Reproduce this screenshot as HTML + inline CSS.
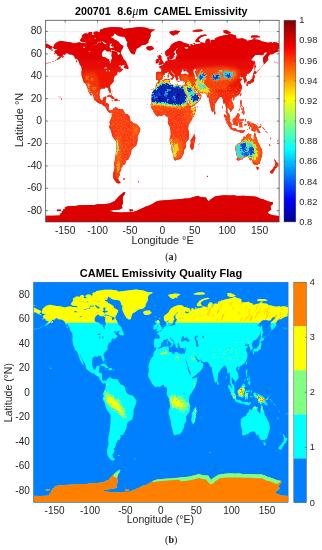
<!DOCTYPE html>
<html><head><meta charset="utf-8"><title>CAMEL Emissivity</title>
<style>
html,body{margin:0;padding:0;background:#fff;}
svg{display:block;}
text{font-family:"Liberation Sans", Arial, Helvetica, sans-serif;fill:#262626;}
.t{font-size:10.3px;}
.l{font-size:11px;}
.h{font-size:10.7px;font-weight:bold;fill:#000;}
.c{font-family:"Liberation Serif", "Times New Roman", serif;font-size:10px;fill:#111;}
.t2{font-size:10px;}
.l2{font-size:10.5px;}
.h2{font-size:11px;font-weight:bold;fill:#000;}
</style></head><body>
<svg width="322" height="550" viewBox="0 0 322 550">
<defs>
<path id="land1" fill-rule="evenodd" d="M92.3,33.4 92.3,32.7 91.6,32.1 90.5,31.9 89.4,32.1 88.6,32.6 88.5,33.2 88.0,33.7 85.0,33.3 81.8,35.5 81.8,36.3 82.3,36.8 85.6,36.9 85.7,37.0 82.6,36.9 82.1,37.1 80.2,40.0 80.3,40.9 82.5,42.2 85.4,41.9 85.9,43.2 87.3,44.2 84.6,42.9 81.4,42.9 79.3,42.3 74.2,43.4 71.0,42.6 60.8,40.9 57.3,42.0 54.5,44.3 53.2,47.6 53.2,47.9 54.4,49.1 57.7,49.2 57.7,49.5 55.5,50.3 54.5,51.4 54.5,51.8 55.3,53.3 57.0,54.1 57.1,55.2 59.2,55.9 59.9,55.7 59.7,56.5 56.5,59.4 56.4,59.7 56.5,60.0 58.8,59.2 60.8,57.5 62.5,55.8 63.7,53.8 63.8,54.7 64.2,55.0 66.0,53.6 67.1,53.1 69.0,54.2 71.5,54.4 74.5,56.0 74.2,56.1 74.8,57.8 75.8,59.5 76.8,58.5 78.8,61.8 79.4,64.1 79.3,64.2 81.0,66.5 81.4,66.6 81.2,66.9 81.7,69.6 81.5,72.9 81.7,76.1 83.9,82.5 85.3,83.3 86.2,84.8 87.5,88.1 88.2,91.0 90.8,95.6 91.0,95.7 91.5,95.6 91.7,95.2 89.8,90.1 88.4,87.4 88.3,86.1 88.5,86.2 89.2,88.2 90.4,90.4 91.4,92.6 93.0,94.9 93.7,97.1 94.1,99.5 98.0,102.7 100.0,103.8 101.3,103.6 102.4,105.1 105.4,106.8 107.0,110.1 108.4,112.1 110.3,113.2 111.0,111.8 111.4,112.3 111.8,113.3 111.9,116.5 109.6,122.1 110.2,124.7 109.3,126.1 109.3,127.8 110.9,130.2 112.0,134.6 112.8,136.9 116.5,141.7 116.3,149.1 115.4,158.0 114.4,162.5 114.3,164.8 114.7,168.1 113.1,173.8 113.4,178.2 114.8,180.6 116.8,182.9 118.9,183.6 119.2,183.5 120.6,182.4 120.5,182.1 118.4,180.3 118.5,179.6 118.0,178.3 120.0,174.8 120.0,174.5 119.1,172.7 120.4,171.6 121.4,169.0 120.8,167.4 122.2,167.3 122.5,165.0 124.9,164.3 125.1,164.1 125.8,162.1 125.2,159.9 126.2,160.4 127.8,160.1 128.0,159.9 131.1,153.2 131.3,150.3 132.2,148.7 134.1,147.1 136.2,145.8 137.5,140.8 137.5,136.3 138.7,134.1 140.2,130.2 140.1,128.3 136.7,124.0 133.7,123.5 131.5,121.6 130.3,120.9 130.3,119.9 129.2,115.8 127.6,114.3 125.6,114.0 122.9,109.8 123.1,109.4 122.9,109.0 122.7,108.9 122.4,109.1 118.4,109.0 117.0,107.8 116.3,108.4 116.4,107.2 116.1,106.8 113.3,108.8 112.2,111.0 111.2,110.1 110.4,110.4 109.1,110.6 108.5,108.7 108.7,104.3 108.6,104.0 106.8,103.1 105.4,102.9 106.0,100.4 106.3,97.0 106.2,96.7 105.9,96.6 103.6,97.2 103.4,97.5 102.8,100.0 101.2,100.3 100.5,99.6 99.4,95.8 99.5,92.5 99.8,89.9 101.6,88.4 103.0,88.4 104.3,88.7 104.7,88.5 105.0,87.6 106.6,87.5 107.7,87.8 109.2,92.1 110.1,93.0 110.6,93.0 110.9,90.9 110.0,87.4 110.2,85.4 112.1,83.2 113.7,81.8 113.8,81.5 113.5,79.6 114.7,76.0 117.2,74.7 117.4,74.4 117.1,73.9 117.3,72.5 119.1,71.2 119.3,71.2 119.4,72.6 119.8,72.6 123.2,69.6 123.0,69.2 120.9,68.2 120.5,65.9 120.1,65.9 118.5,67.0 119.8,65.2 124.2,64.9 124.7,64.5 123.6,67.8 126.0,68.8 127.3,69.1 128.4,68.7 128.6,68.4 128.4,66.6 126.5,63.1 126.6,62.8 126.4,61.6 123.8,59.2 120.7,53.2 120.3,53.3 119.7,54.2 118.3,55.3 117.7,54.8 117.4,52.7 117.2,52.4 114.5,50.9 111.6,50.8 111.8,53.8 111.5,55.6 112.1,58.3 110.9,60.4 110.8,63.1 110.4,63.2 109.8,62.0 110.1,62.0 110.3,61.7 110.1,61.4 109.5,61.4 109.2,59.2 107.4,58.8 105.4,57.4 102.7,56.9 101.5,54.9 102.4,51.8 103.9,50.2 105.1,49.6 106.7,51.2 107.2,51.4 108.2,51.2 108.9,51.5 109.5,51.3 109.8,50.9 110.6,50.8 110.9,50.5 111.1,49.8 110.6,48.3 108.7,46.7 109.9,46.2 109.6,43.6 111.6,43.6 112.6,44.1 111.6,44.5 111.2,45.2 111.3,45.7 111.7,46.3 112.6,46.6 113.9,46.3 113.6,47.8 111.6,47.9 111.1,48.3 110.9,48.9 111.3,49.5 114.7,50.2 116.0,51.3 120.0,52.7 120.6,52.7 121.0,52.3 121.1,51.7 120.8,51.0 121.7,50.3 123.4,46.7 123.3,45.9 119.7,43.7 119.1,42.3 118.8,41.9 116.2,40.2 113.7,39.2 113.6,38.7 113.0,38.1 111.3,37.9 111.4,36.3 112.6,36.3 113.1,36.0 114.4,33.3 114.7,33.2 116.9,35.1 119.5,36.3 124.3,36.8 125.8,38.9 126.4,41.1 128.5,42.5 127.7,42.4 127.2,42.5 126.9,42.9 127.4,46.2 129.0,49.5 131.0,52.9 133.3,54.3 134.6,54.2 134.9,53.9 135.5,51.2 136.7,48.5 138.6,47.7 141.8,45.2 145.8,44.6 148.4,42.4 148.5,40.5 149.7,38.3 150.7,36.1 150.4,33.8 151.6,31.7 155.0,29.8 154.9,29.6 154.6,29.4 150.8,29.4 146.2,27.7 139.7,27.1 123.0,29.0 123.0,28.2 122.3,27.8 117.0,27.2 110.5,27.2 103.8,28.3 102.2,29.6 100.4,29.5 99.9,30.2 99.9,32.3 98.9,32.5 98.0,31.7 96.3,31.5 94.5,31.8 93.6,32.5 93.4,33.0 93.6,33.7 94.6,34.5 94.1,35.0 91.6,34.7 92.1,34.2 92.1,33.5ZM88.4,34.7 88.4,34.6 88.5,34.7ZM98.5,34.1 98.9,34.5 99.5,34.6 98.1,34.5ZM104.0,34.2 101.0,34.2 104.1,34.1ZM99.7,37.6 99.6,37.6 99.6,37.5ZM100.5,42.9 99.2,42.5 98.1,42.8 97.4,43.7 97.8,44.5 96.2,44.6 92.5,45.6 91.8,45.0 93.2,44.9 96.7,44.0 97.1,43.5 97.6,41.6 99.6,41.9 100.1,41.7 100.4,41.3 101.0,41.2 100.6,43.1ZM82.3,66.6 81.9,65.7 82.6,66.3ZM104.9,38.3 104.9,37.8 106.6,38.0ZM94.7,38.5 94.1,38.4 94.5,37.8 96.1,38.0 95.8,39.1ZM92.5,38.4 88.0,38.1 87.8,37.9ZM103.2,41.0 103.5,41.7 106.7,43.4 105.9,44.5 104.2,44.0 103.0,43.0 101.9,41.1ZM108.9,71.6 108.6,70.4 108.3,69.9 109.7,69.9 110.1,71.0 109.4,72.1ZM107.0,68.6 105.7,68.6 103.8,68.4 104.9,67.6 106.5,67.2 107.1,68.4ZM106.1,72.3 105.8,73.4 106.0,71.3 105.8,70.1 106.9,69.9 106.9,70.6ZM99.5,63.6 99.2,62.7 98.7,61.2 98.9,61.2ZM90.6,51.5 89.0,52.2 87.3,52.6 88.6,51.4 90.3,51.1ZM85.1,46.4 85.4,47.1 84.5,47.9 83.3,47.9 83.1,46.8ZM45.7,41.1 45.7,41.7 47.4,41.3 47.3,41.2ZM45.7,48.6 46.8,47.5 48.1,48.0 50.0,49.3 50.4,49.4 51.2,49.0 52.6,47.2 52.7,46.9 47.8,44.3 45.8,43.5 45.5,43.5 45.4,43.8 45.4,48.3ZM52.9,50.1 52.6,49.7 52.0,49.6 51.4,49.7 51.1,50.0 51.4,50.4 52.0,50.5 52.6,50.4ZM111.0,51.2 110.7,51.0 110.3,51.2 110.2,51.6 110.3,52.0 110.7,52.2 111.0,52.0 111.1,51.6ZM55.2,53.7 55.0,53.4 54.6,53.3 54.2,53.4 54.0,53.7 54.2,54.1 54.6,54.2 55.0,54.1ZM63.7,56.0 63.2,55.9 62.7,56.2 62.2,56.9 62.1,57.5 62.5,57.7 63.1,57.3 63.6,56.7ZM56.1,60.2 55.9,60.0 55.4,59.9 55.0,60.0 54.8,60.2 55.0,60.5 55.4,60.6 55.9,60.5ZM54.4,61.1 54.2,60.9 53.8,60.8 53.4,60.9 53.2,61.1 53.4,61.4 53.8,61.5 54.2,61.4ZM77.0,60.6 76.6,60.3 76.2,60.6 76.1,61.4 76.2,62.1 76.6,62.4 77.0,62.1 77.2,61.4ZM53.1,61.8 52.9,61.6 52.5,61.5 52.1,61.6 51.9,61.8 52.1,62.1 52.5,62.1 52.9,62.1ZM51.2,62.5 51.0,62.2 50.6,62.2 50.1,62.2 49.9,62.5 50.1,62.7 50.6,62.8 51.0,62.7ZM49.6,62.8 49.4,62.6 48.9,62.5 48.5,62.6 48.3,62.8 48.5,63.1 48.9,63.2 49.4,63.1ZM48.3,63.0 48.1,62.8 47.6,62.7 47.2,62.8 47.0,63.0 47.2,63.3 47.6,63.4 48.1,63.3ZM47.0,63.3 46.8,63.0 46.3,62.9 45.9,63.0 45.7,63.3 45.9,63.5 46.3,63.6 46.8,63.5ZM112.8,91.3 112.2,91.0 111.6,91.3 112.2,91.6ZM112.1,93.2 111.8,92.9 111.6,93.2 111.6,94.5 111.8,94.8 112.1,94.5ZM59.3,96.4 59.0,96.1 58.7,96.4 59.0,96.7ZM107.0,96.7 108.6,96.8 110.4,97.1 111.5,98.1 112.0,99.1 114.3,98.8 114.6,98.4 114.0,97.6 111.4,95.3 109.3,94.7 107.1,96.1ZM60.3,97.0 60.0,96.7 59.7,97.0 60.0,97.3ZM61.3,97.8 60.9,97.5 60.5,97.8 60.9,98.1ZM62.0,98.7 61.6,98.4 61.2,98.7 61.1,99.1 61.2,99.6 61.6,99.8 62.0,99.6 62.1,99.1ZM114.0,100.4 116.0,101.2 118.1,100.2 117.1,98.8 115.1,98.7ZM119.9,100.7 119.7,100.4 119.3,100.3 118.8,100.4 118.6,100.7 118.8,101.0 119.3,101.1 119.7,101.0ZM113.0,100.8 112.8,100.5 112.3,100.4 111.8,100.5 111.6,100.8 111.8,101.1 112.3,101.2 112.8,101.1ZM56.7,209.7 57.3,211.2 61.0,210.7 60.6,209.5ZM201.3,29.4 196.0,29.8 192.8,30.8 192.5,31.2 192.8,31.5 198.0,31.8 202.9,31.1 202.8,30.6ZM179.9,31.1 175.3,30.5 169.5,31.7 169.2,32.0 171.2,34.5 173.3,35.6 173.6,35.6 176.2,34.0 176.4,34.3 177.0,34.4 177.6,34.3 177.9,33.9 177.6,33.5 177.2,33.4 180.2,31.5ZM157.5,41.5 157.0,41.3 156.5,41.5 157.0,41.8ZM195.0,43.6 194.8,43.3 194.3,43.1 193.8,43.3 193.6,43.7 193.8,44.0 194.3,44.2 194.8,44.0ZM146.6,48.7 147.8,49.9 150.3,50.4 152.8,49.4 154.0,48.3 152.0,46.2 148.1,46.3 146.2,47.6ZM158.2,51.6 157.9,51.3 157.5,51.6 157.9,52.0ZM161.7,53.1 161.6,52.9 161.4,53.1 161.4,53.9 161.5,54.1 161.7,53.9ZM177.6,55.6 177.4,55.4 177.0,55.3 176.6,55.4 176.4,55.7 176.6,55.9 177.0,56.0 177.4,55.9ZM157.9,55.5 157.7,55.7 157.6,56.3 157.9,57.2 158.1,56.3ZM174.6,56.2 174.4,56.0 174.2,56.2 174.2,57.1 174.4,57.3 174.6,57.1ZM172.9,58.5 173.4,57.9 173.6,55.7 174.4,54.9 174.8,54.0 174.8,53.6 174.0,52.6 174.1,51.4 176.5,49.1 176.9,48.0 177.9,47.7 178.3,47.9 176.0,50.2 175.9,51.6 176.0,53.1 177.1,54.2 177.4,54.3 179.3,53.8 180.8,53.6 181.1,53.8 180.5,54.1 178.6,54.1 177.5,54.4 177.3,54.6 177.3,54.9 177.9,55.8 177.8,56.5 177.1,56.1 176.8,56.2 175.8,56.9 175.7,58.8 174.9,59.6 174.3,59.3 171.6,60.3 170.7,59.8 169.6,59.8 169.2,59.5 169.5,59.1 169.3,58.8 169.6,57.8 169.6,56.5 169.3,56.1 169.1,56.2 168.4,56.7 167.6,56.9 167.4,57.2 167.4,58.9 167.7,59.7 167.6,60.5 165.4,61.4 164.4,63.2 163.6,63.6 163.8,61.9 162.9,61.4 162.7,60.7 161.7,59.3 161.3,58.3 161.4,56.2 160.6,56.1 160.7,55.2 159.2,55.1 158.8,55.3 158.2,57.7 158.6,59.1 158.2,58.9 157.2,58.9 155.7,60.1 155.6,60.5 155.9,61.4 155.6,62.5 155.7,63.4 157.2,63.5 158.6,62.8 158.7,62.5 159.2,60.0 160.0,60.0 160.1,60.9 159.4,61.0 159.1,61.4 159.3,62.5 158.8,62.8 158.7,63.2 159.4,63.6 158.4,64.7 158.5,65.2 160.2,65.1 163.2,64.1 163.1,64.7 162.4,65.3 161.7,65.4 161.2,65.0 160.9,65.4 161.0,66.1 160.4,66.1 159.1,66.6 159.1,67.5 159.3,67.7 160.7,68.5 161.3,69.6 161.3,70.9 161.0,72.1 157.2,71.8 156.2,72.7 156.1,72.9 156.3,74.9 155.9,77.5 156.3,78.1 156.3,79.6 156.4,79.9 156.7,80.0 157.7,79.8 158.4,80.7 157.9,82.2 156.6,83.4 155.8,85.7 155.6,87.9 153.7,89.8 152.7,91.8 151.7,94.6 151.0,97.5 151.5,99.8 151.4,103.1 150.7,104.7 151.2,107.4 153.2,110.6 153.5,111.7 154.7,113.7 157.3,116.4 157.7,116.5 159.5,115.6 161.3,116.0 164.1,114.4 165.1,114.5 166.0,116.4 166.3,116.6 167.9,116.4 168.0,116.7 167.8,117.2 168.0,117.6 168.3,117.4 168.2,119.9 167.8,122.1 168.3,124.1 169.7,126.3 170.7,131.2 170.8,135.0 169.8,138.3 169.7,140.8 171.5,146.9 171.8,150.8 173.1,154.8 174.0,159.4 175.2,160.4 175.5,160.4 177.4,159.5 179.5,159.3 181.2,158.0 183.8,153.2 184.1,149.8 185.6,148.0 185.8,146.8 185.5,143.3 186.7,141.2 188.3,139.7 189.1,137.4 189.0,132.8 188.0,128.5 188.7,124.6 190.9,121.3 193.8,116.2 195.7,110.4 195.8,107.6 195.7,107.4 195.4,107.3 192.8,108.2 191.4,108.9 190.8,108.1 190.8,107.2 191.8,107.0 194.0,105.7 196.3,103.4 198.5,101.7 199.6,100.3 200.1,99.9 201.5,96.1 200.7,94.5 199.5,93.6 198.9,91.6 198.4,91.8 197.2,93.6 196.4,93.6 195.8,91.8 195.6,91.6 195.2,91.7 194.2,89.0 193.9,87.7 194.1,87.6 194.8,88.2 195.5,90.0 196.6,91.1 197.9,91.6 198.9,91.1 200.6,93.0 202.3,93.3 205.4,93.1 206.5,95.1 207.3,95.5 206.9,95.8 206.9,96.3 208.2,98.0 208.6,98.1 209.2,97.7 209.4,101.5 211.5,110.5 212.3,112.2 212.8,112.3 214.0,110.6 214.0,112.1 214.2,114.4 215.0,114.3 215.5,113.2 215.1,111.5 214.2,110.2 214.5,109.6 214.8,103.9 216.1,102.5 217.8,99.5 218.8,98.7 219.1,97.5 221.5,96.4 221.7,97.2 222.7,98.8 223.3,100.9 223.2,103.3 224.3,103.7 224.9,102.8 225.2,102.5 225.3,102.7 225.6,105.4 226.0,107.7 225.8,111.9 226.6,113.4 227.7,118.0 229.1,119.6 230.1,119.9 230.3,119.5 229.9,118.2 229.8,116.5 229.5,114.8 228.7,113.6 227.9,113.0 227.1,109.3 227.6,107.2 228.4,107.8 229.2,109.5 230.1,110.1 230.1,111.4 230.2,111.7 230.7,111.7 231.7,110.7 232.1,109.7 233.5,108.2 233.6,106.4 233.0,103.1 231.8,101.3 231.4,99.8 231.9,98.3 232.6,97.3 233.2,97.3 233.7,98.6 232.8,99.4 232.8,100.1 233.8,100.6 234.4,99.0 233.9,98.7 234.2,98.5 234.6,97.5 238.5,95.0 239.9,93.2 241.5,89.5 241.8,87.8 241.7,85.8 240.1,81.9 241.1,80.4 242.1,79.5 242.2,79.2 242.0,79.0 240.9,78.4 239.7,78.8 239.2,77.6 239.8,77.4 240.9,75.7 241.1,75.9 240.8,77.3 241.1,77.7 242.8,76.9 243.3,77.0 243.1,78.5 243.9,79.7 244.2,82.7 244.6,82.7 246.5,81.6 246.6,81.3 246.6,79.6 245.5,76.6 246.6,75.4 247.0,73.8 248.9,73.4 250.5,72.0 252.2,69.7 253.5,67.4 254.2,63.1 254.4,69.6 255.5,69.2 255.1,68.4 256.2,66.2 255.4,65.0 255.2,61.7 254.5,60.2 254.4,60.2 254.3,62.0 253.3,60.8 251.4,60.3 250.8,59.8 251.4,59.3 251.4,59.7 252.0,59.7 252.0,59.2 251.5,59.2 255.3,55.0 259.0,54.8 261.0,55.3 263.0,55.0 263.2,54.8 264.4,52.5 266.1,52.2 267.5,52.4 265.2,55.3 263.2,57.2 262.9,60.7 263.8,64.0 263.4,64.2 263.2,64.9 262.7,65.1 262.5,65.8 262.8,65.9 263.3,65.0 263.7,64.8 263.9,64.1 264.2,64.3 264.5,64.2 268.3,59.7 268.4,59.3 267.8,58.3 268.4,56.3 270.2,54.2 272.6,54.2 274.1,53.0 276.0,52.2 278.8,51.2 278.0,49.1 278.7,49.1 279.5,48.3 279.5,43.8 279.2,43.4 276.5,42.5 273.3,42.3 272.9,42.6 272.7,43.2 271.3,42.3 267.5,42.7 266.2,42.3 261.1,41.2 259.7,40.1 253.9,39.2 246.9,41.1 246.2,39.6 244.8,39.5 243.0,38.2 238.9,38.7 236.2,38.4 236.3,38.1 236.0,35.9 235.8,35.6 229.9,33.7 227.1,35.0 223.3,35.6 218.7,36.7 214.8,38.4 214.6,38.8 215.0,40.2 212.9,39.7 210.8,40.2 210.0,44.8 209.9,44.9 210.1,44.3 209.8,41.5 210.0,39.7 208.6,39.3 209.0,38.9 208.3,38.6 207.8,38.7 207.6,39.0 207.2,39.0 206.8,39.1 205.4,41.3 205.5,43.5 204.6,43.1 201.5,42.6 201.4,42.3 201.0,42.1 200.6,42.3 200.4,42.6 200.6,43.0 200.8,43.1 200.5,43.4 194.7,44.6 192.6,45.5 192.6,44.9 192.4,44.6 190.8,44.0 190.6,44.3 190.6,46.3 189.3,46.6 189.5,46.2 189.3,44.8 189.1,44.6 185.9,43.2 183.9,43.0 182.6,42.0 180.7,41.2 179.0,41.1 175.2,42.3 173.5,43.2 171.9,44.3 170.6,45.8 169.9,47.5 169.0,48.6 165.4,51.3 165.3,51.6 165.3,53.4 165.7,55.3 166.7,56.3 167.0,56.4 167.8,56.2 169.2,55.0 170.2,58.3 169.5,58.4 169.6,59.3 171.6,59.4 171.9,59.1 172.1,58.6ZM170.4,78.4 170.5,79.0 172.3,80.0 172.5,78.9 172.8,78.9 173.3,78.4 173.8,77.5 173.5,76.8 173.6,76.2 174.5,76.5 174.7,76.1 175.9,78.2 175.8,78.8 176.1,79.9 176.7,80.5 177.3,80.5 177.7,80.2 177.8,79.1 178.2,79.1 178.3,78.8 178.3,78.3 177.5,77.0 177.5,76.4 177.8,76.6 178.1,76.5 178.3,75.7 179.0,75.8 179.1,77.0 179.6,78.0 179.8,80.0 180.0,80.3 181.1,80.7 182.2,80.2 183.6,80.9 184.0,80.9 184.9,80.3 185.5,80.3 185.3,82.4 184.4,85.7 183.6,85.8 182.4,85.5 181.2,86.0 178.7,85.2 176.9,83.9 176.5,83.9 175.4,84.3 175.1,84.6 174.8,86.4 173.9,86.1 172.5,84.6 169.9,83.6 169.4,82.8 169.8,82.0 169.6,80.7 169.9,79.5 169.0,79.0 164.3,79.5 161.1,81.3 159.4,80.6 159.7,80.3 161.2,80.1 162.3,79.1 162.8,77.9 162.6,76.9 163.2,75.6 164.7,74.4 164.8,74.1 164.7,73.5 164.9,72.9 165.5,72.8 166.3,73.1 166.7,73.0 168.1,71.7 168.3,71.8 168.8,72.5 169.3,73.8 172.2,76.4 172.3,78.2ZM186.7,96.3 185.7,94.1 184.7,90.4 184.9,90.2 186.4,94.0 188.3,99.9 189.6,102.7 190.1,105.9 188.0,103.0 187.1,100.3ZM170.8,71.4 170.7,70.6 171.2,70.4 172.5,72.5 174.1,73.7 174.7,74.5 174.6,75.9 173.0,73.9 171.9,73.3 171.6,72.2ZM188.0,47.0 188.0,48.4 186.4,49.0 185.0,48.5 184.4,46.9 187.0,47.3ZM200.7,69.3 201.7,69.3 201.9,70.6 201.2,71.6 200.7,71.1ZM196.4,70.4 195.4,70.7 195.1,70.9 194.8,72.3 196.4,74.7 196.4,76.3 197.1,77.5 196.9,79.1 196.1,79.6 195.1,79.0 194.5,77.9 194.8,75.8 193.5,72.8 193.2,70.3 194.3,69.3 195.7,69.0 196.4,69.4ZM183.3,70.0 183.2,70.4 184.0,71.6 186.1,70.8 186.5,71.3 188.7,73.1 188.9,74.4 188.0,74.8 186.5,74.6 185.3,73.7 184.1,73.7 182.7,74.5 181.4,74.6 180.9,74.1 180.8,73.3 182.5,69.3 182.8,69.2 183.6,69.6ZM186.0,70.1 185.7,70.0 185.5,69.4 186.6,69.0ZM183.5,123.5 183.4,121.1 184.1,121.2 183.8,123.5ZM182.2,52.8 182.6,52.4 183.4,52.9 183.2,53.3 182.4,53.5ZM122.6,65.6 122.3,65.3 121.6,65.2 120.8,65.3 120.5,65.6 120.8,65.9 121.6,66.0 122.3,65.9ZM167.9,73.0 168.0,74.5 168.6,74.8 168.6,72.9ZM167.7,74.9 167.8,77.4 168.7,77.3 168.8,75.0ZM164.8,76.7 164.7,76.4 164.3,76.2 164.0,76.4 163.9,76.7 164.0,77.0 164.3,77.2 164.7,77.0ZM177.6,81.1 177.7,81.7 179.5,81.9 179.5,81.5ZM183.3,81.7 183.6,82.4 184.5,82.1 184.9,81.1ZM153.5,88.8 153.3,88.6 153.1,88.8 153.1,89.5 153.3,89.7 153.5,89.5ZM152.1,89.4 151.7,89.1 151.3,89.4 151.7,89.7ZM152.5,89.5 152.1,89.5 152.1,89.9 152.5,89.9ZM147.3,103.9 147.1,103.8 146.9,103.9 146.9,104.4 147.1,104.5 147.3,104.4ZM197.9,107.1 197.7,106.8 197.3,106.8 196.7,107.1 197.3,107.4ZM190.8,134.0 190.4,134.0 190.4,134.4 190.8,134.4ZM193.3,148.9 194.8,140.2 195.4,138.4 194.7,134.5 194.3,134.2 191.9,138.5 190.6,140.1 190.8,143.4 190.1,145.8 190.4,147.6 191.8,150.0ZM198.6,144.5 198.4,144.4 198.2,144.5 198.2,145.0 198.6,145.0ZM125.0,179.0 124.7,178.6 124.0,178.4 123.2,178.6 122.9,179.0 123.2,179.4 124.0,179.6 124.7,179.4ZM139.3,182.4 139.1,182.0 138.6,181.6 138.1,181.3 137.8,181.4 138.0,181.8 138.4,182.2 139.0,182.5ZM272.9,202.1 270.7,201.9 268.5,201.4 263.7,199.4 259.8,198.4 257.1,196.9 254.5,196.4 249.8,196.3 243.4,195.8 237.4,195.9 233.7,195.3 230.5,195.6 224.9,195.3 219.4,195.8 214.9,196.6 212.1,198.6 210.2,199.8 208.7,201.4 206.8,199.3 206.2,197.7 205.9,197.5 200.1,196.9 198.0,195.8 188.3,198.4 185.0,198.6 181.8,199.1 168.9,199.9 159.1,200.8 155.9,201.7 152.2,204.1 149.9,205.3 146.0,206.5 142.8,208.1 136.3,210.9 133.2,212.0 120.3,212.6 113.8,212.0 110.0,211.1 110.7,210.5 113.8,209.9 119.6,209.4 122.5,208.0 121.6,205.7 122.5,204.6 123.2,202.4 122.6,199.5 122.9,196.8 124.5,194.6 125.3,192.5 125.1,192.0 124.9,192.0 123.3,192.5 118.7,196.4 116.8,198.7 115.4,199.9 115.3,200.3 115.6,201.0 113.9,201.5 113.4,201.4 111.7,202.5 109.2,203.4 104.0,204.2 97.6,204.3 94.3,205.1 87.8,205.0 80.0,205.3 74.8,205.9 69.0,206.1 65.0,207.3 64.8,207.7 65.5,208.5 62.9,209.4 63.0,209.8 63.8,210.5 61.6,211.2 61.7,211.7 62.5,212.2 60.6,213.4 59.7,215.5 52.2,215.8 45.5,215.7 45.4,221.9 45.7,222.2 279.1,222.2 279.5,221.9 279.4,216.1 274.0,215.4 269.5,214.3 267.7,213.0 268.4,211.5 271.3,209.6 270.4,206.3 272.5,204.5 273.0,202.4ZM129.3,209.5 130.0,211.4 133.3,211.1 132.6,209.5ZM223.4,30.4 222.9,30.8 223.4,31.1 223.8,31.2 223.6,31.5 223.7,32.8 227.1,34.0 228.7,33.6 229.8,33.5 230.8,32.7 230.6,32.3 226.1,30.0 225.1,30.4ZM200.5,35.6 197.8,37.4 195.5,40.4 195.5,41.7 196.8,42.2 199.9,42.1 200.0,41.7 198.8,39.8 199.0,38.9 201.5,36.8 206.6,35.4 206.8,35.2 206.8,34.9 205.1,34.5ZM246.3,82.1 246.1,82.2 246.1,82.5 246.2,83.0 246.4,82.5ZM248.1,83.2 248.6,84.4 249.7,83.4 249.6,82.8 249.7,82.8 250.3,83.7 250.7,83.9 251.4,82.6 252.3,82.5 253.5,82.0 254.0,80.9 254.2,78.6 254.8,77.0 254.4,74.7 253.9,74.5 254.2,73.5 255.3,74.1 256.8,72.6 256.5,71.7 255.2,71.2 254.3,70.1 254.1,72.3 253.3,72.9 253.1,74.6 253.7,74.7 252.8,75.7 252.6,77.3 252.3,78.2 252.1,78.1 252.0,78.2 251.9,79.0 250.8,79.5 250.0,80.9 248.3,81.1 247.1,82.2 247.0,83.0 247.1,83.3ZM244.8,83.6 244.4,83.4 244.1,83.7 244.4,83.9ZM246.6,83.5 246.5,84.5 247.0,86.4 247.7,85.8 247.9,83.5ZM245.4,91.8 245.6,90.9 245.4,90.9 245.1,91.9ZM241.2,92.8 240.6,93.5 240.1,95.3 240.7,96.5 241.4,93.6ZM240.5,100.3 240.1,103.1 240.8,105.8 240.5,106.5 240.6,107.1 240.9,107.4 241.2,107.1 241.3,106.5 241.1,105.8 241.8,105.8 242.8,107.0 242.9,106.5 241.6,105.3 241.3,104.3 241.6,102.6 241.7,100.4ZM222.6,105.8 222.3,106.2 222.3,107.3 222.3,108.3 222.6,108.8 222.8,108.3 222.8,107.3ZM243.0,107.0 243.1,109.6 243.5,110.0 244.0,108.8 243.8,107.3ZM241.5,107.8 241.4,109.3 242.2,110.8 242.5,109.3 242.2,108.1ZM238.3,111.7 240.0,109.3 239.8,108.3 238.5,110.7ZM243.3,110.1 242.9,109.7 242.6,110.1 242.9,110.5ZM241.4,113.2 242.3,112.8 243.7,114.7 244.2,114.0 244.5,112.1 243.8,110.1 242.4,111.5ZM238.3,122.8 239.1,120.5 239.9,120.1 239.2,118.7 239.1,117.7 239.2,116.4 240.0,115.2 238.1,112.9 237.7,113.1 237.0,114.7 236.0,115.9 235.4,117.2 234.4,117.7 234.1,118.7 233.5,118.5 233.1,118.7 232.7,119.4 232.7,121.6 233.4,122.9 233.5,124.5 233.7,124.8 234.9,125.2 236.1,125.2 236.5,126.0 237.9,125.8ZM225.7,119.2 225.4,119.3 225.3,119.7 225.7,120.4 225.9,120.4 226.1,120.0ZM245.1,118.8 244.9,120.0 245.4,122.1 245.9,120.8 245.8,119.4ZM226.6,122.2 226.3,122.1 226.2,122.5 226.5,123.3 226.8,123.4 226.9,123.0ZM242.5,127.4 242.2,126.4 242.3,124.9 241.7,123.3 242.5,122.7 242.7,122.0 242.3,121.7 240.8,121.8 240.6,121.2 241.0,120.9 243.3,120.8 243.8,119.4 243.5,118.9 242.1,119.6 240.8,119.3 240.4,119.4 239.7,120.4 239.1,124.0 239.5,125.1 239.6,127.5 240.1,127.5 240.7,126.9 240.8,125.4 241.3,126.9 241.9,127.5 242.2,127.6ZM231.5,123.1 231.1,122.9 230.8,123.1 229.5,120.2 227.5,117.8 225.9,115.1 224.0,114.5 223.8,114.9 224.3,116.7 226.1,119.3 226.3,120.7 227.1,122.3 227.6,124.0 228.4,125.8 229.9,127.7 230.6,127.9 230.3,128.8 231.2,129.6 234.3,130.7 238.2,131.5 240.1,132.4 242.4,133.0 243.4,132.7 245.0,130.7 245.0,130.2 244.7,130.1 243.4,130.2 242.8,130.9 242.4,130.2 242.1,130.0 237.0,129.9 236.9,129.5 235.7,128.5 234.5,127.9 234.3,127.9 233.9,128.4 231.4,127.4 231.5,124.5 231.3,124.1 231.6,123.6ZM232.7,124.1 232.4,123.9 232.2,124.0 232.2,124.6 232.4,124.7 232.7,124.6ZM244.0,124.6 244.1,125.2 244.5,125.4 246.0,125.2 247.3,124.8 245.4,124.2 244.5,124.4ZM247.9,129.4 247.7,129.2 247.4,129.4 247.4,130.0 247.7,130.2 247.9,130.0ZM199.9,143.6 199.7,143.5 199.6,143.6 199.6,144.0 199.7,144.2 199.9,144.0ZM240.3,159.4 242.7,159.3 243.1,158.3 244.2,157.6 246.1,156.8 247.4,156.7 248.7,157.4 249.8,159.9 250.4,160.3 250.7,160.4 250.9,160.2 251.6,158.8 251.8,160.3 252.5,161.3 252.7,162.7 253.7,164.2 255.3,164.9 256.4,164.4 257.3,165.1 258.3,163.9 259.7,163.4 259.9,163.1 260.0,162.0 261.9,155.9 262.3,153.2 262.1,151.3 261.6,148.9 259.6,145.6 259.0,143.6 257.6,142.1 256.9,137.8 255.9,136.9 255.8,135.0 254.9,132.7 254.6,132.7 254.4,133.0 253.8,135.6 253.9,137.9 253.4,140.3 252.7,140.1 251.8,138.8 250.6,137.7 251.4,134.5 250.0,134.4 248.3,133.3 248.0,133.6 248.0,134.3 247.1,134.6 246.4,135.4 246.1,137.4 245.5,137.3 244.3,136.5 244.0,136.4 243.8,136.6 242.3,140.0 241.5,139.8 241.3,140.1 240.9,142.5 237.5,144.1 235.8,145.4 235.6,145.7 235.6,150.2 237.1,156.9 236.6,159.5 237.4,160.3 238.8,160.6 239.1,160.5ZM208.1,176.3 207.9,175.9 207.5,175.7 207.0,175.9 206.8,176.3 207.0,176.7 207.5,176.9 207.9,176.7ZM251.9,35.6 250.8,36.6 251.0,36.8 250.9,37.1 251.2,37.4 255.1,37.6 259.7,37.2 259.9,37.0 260.0,36.7 259.8,36.5 257.1,35.6ZM255.7,38.6 255.3,38.3 254.5,38.2 253.6,38.3 253.2,38.6 253.6,38.9 254.5,39.0 255.3,38.9ZM278.1,41.5 279.1,41.7 279.2,41.2 279.1,41.1ZM275.2,61.9 275.0,61.7 274.6,61.6 274.1,61.7 273.9,61.9 274.1,62.2 274.6,62.3 275.0,62.2ZM276.5,62.5 276.3,62.2 275.9,62.2 275.4,62.2 275.2,62.5 275.4,62.7 275.9,62.8 276.3,62.7ZM278.4,63.0 278.2,62.8 277.8,62.7 277.4,62.8 277.2,63.0 277.4,63.3 277.8,63.4 278.2,63.3ZM262.3,66.3 262.0,66.2 261.8,66.5 261.6,67.2 261.8,67.3 262.1,67.0ZM261.3,67.7 261.1,67.7 260.8,67.9 260.6,68.7 260.8,68.7 261.1,68.5ZM260.0,68.8 259.8,68.8 259.5,69.1 259.3,69.8 259.5,69.8 259.8,69.6ZM258.7,69.8 258.5,69.8 258.2,70.1 257.8,71.3 258.4,70.9ZM257.7,70.6 257.5,70.6 257.2,70.8 257.0,71.6 257.3,71.6 257.5,71.4ZM251.0,122.2 250.6,121.8 250.1,122.2 250.6,122.6 250.9,122.5ZM258.1,123.4 257.7,123.2 257.3,123.4 257.7,123.7ZM261.7,126.0 261.6,125.5 261.1,124.6 260.5,123.9 260.2,123.7 260.3,124.3 260.8,125.1ZM258.5,127.2 258.6,127.9 260.0,128.1 261.2,126.7 261.0,125.7ZM251.4,128.7 251.5,130.4 251.7,130.7 252.5,130.5 253.8,131.6 255.1,131.5 255.4,131.3 256.0,130.1 256.8,130.3 257.5,132.0 259.1,133.0 260.0,133.0 260.3,132.8 260.3,132.4 258.1,128.7 258.4,127.9 258.3,127.6 256.3,125.0 254.0,123.7 251.7,122.7 251.3,122.8 250.2,124.2 249.7,123.7 249.6,121.9 249.4,121.7 248.5,121.2 247.2,121.7 247.0,122.1 247.2,122.8 248.3,124.5 248.3,125.6 248.5,125.9 249.8,126.3 251.6,127.5 251.8,128.3ZM263.5,128.1 262.9,127.2 262.5,127.2 262.8,128.3 263.2,128.6 263.4,128.6 264.0,129.6 264.6,130.0 264.9,130.0 264.8,129.5 264.3,128.9 263.8,128.5 263.5,128.5ZM249.9,127.4 249.6,127.0 249.3,127.4 249.3,128.7 249.6,129.0 249.9,128.7ZM266.9,132.5 267.2,133.1 267.7,133.3 267.4,132.6 266.9,132.4 266.3,131.4 265.8,131.0 265.4,131.0 265.5,131.5 266.0,132.1 266.5,132.5ZM270.9,137.2 270.6,137.5 270.5,138.4 270.6,139.3 270.8,139.8 271.0,139.3 271.1,138.4ZM279.1,139.7 278.6,139.4 278.2,139.7 278.6,140.0ZM278.3,141.0 278.2,140.6 277.8,140.5 277.4,140.6 277.3,141.0 277.4,141.4 277.8,141.5 278.2,141.4ZM270.5,146.0 270.4,145.4 269.9,144.6 269.3,144.0 268.9,143.9 269.0,144.5 269.5,145.3 270.1,145.9ZM275.7,167.9 276.3,167.9 277.3,166.7 277.5,165.3 278.2,164.8 278.3,163.2 278.0,162.8 276.7,162.8 275.6,160.4 274.3,159.3 274.1,159.4 274.0,159.7 275.3,162.6 275.3,164.1 274.7,165.1 275.5,166.3 275.3,167.1 274.6,166.2 274.3,166.1 274.1,166.3 272.7,169.0 270.4,171.3 270.0,172.8 271.4,173.5 272.5,173.5 273.4,172.6 273.7,171.1 274.8,170.2 274.9,169.6ZM256.2,166.6 257.0,169.8 258.1,169.7 258.6,168.4 258.6,166.9 257.4,166.9Z"/>
<path id="land2" fill-rule="evenodd" d="M84.2,296.5 84.2,295.9 83.5,295.2 82.3,295.0 81.1,295.2 80.3,295.8 80.2,296.3 79.7,297.0 79.2,296.8 76.3,296.5 73.2,298.6 72.9,299.0 72.9,299.7 73.4,300.2 76.6,300.4 77.0,300.3 77.1,300.6 73.7,300.5 73.2,300.6 71.1,303.8 71.2,304.7 73.6,306.1 76.8,305.8 77.3,307.3 79.0,308.5 75.9,306.9 72.4,306.9 70.1,306.3 64.5,307.5 61.1,306.6 54.7,305.7 49.9,304.7 46.0,305.9 43.0,308.5 41.5,312.0 41.6,312.5 42.9,313.7 46.4,313.8 46.4,314.1 44.1,315.0 43.0,316.2 42.9,316.6 43.8,318.3 45.7,319.2 45.8,320.4 48.2,321.1 48.9,321.0 48.6,321.7 45.1,325.0 45.0,325.3 45.2,325.6 45.6,325.7 47.7,324.8 49.9,322.9 51.7,321.0 53.0,318.9 53.2,319.8 53.6,320.2 55.6,318.6 56.7,318.1 58.8,319.3 61.6,319.6 64.8,321.2 64.5,321.4 65.2,323.2 66.2,325.1 67.3,324.0 69.5,327.6 70.1,330.2 71.9,332.7 72.3,332.8 72.1,333.2 72.6,336.1 72.4,339.7 72.7,343.2 75.1,350.3 76.7,351.1 77.6,352.7 79.0,356.4 79.8,359.5 82.6,364.5 82.8,364.7 83.4,364.6 83.7,364.4 83.7,364.0 81.5,358.5 80.0,355.5 80.0,354.2 80.8,356.4 82.2,358.9 83.3,361.3 85.1,363.8 85.7,366.1 86.2,368.8 90.5,372.3 92.7,373.5 94.1,373.2 95.3,375.0 98.6,376.7 100.3,380.3 101.9,382.5 103.6,383.7 103.9,383.8 104.2,383.6 104.7,382.2 105.1,382.8 105.6,383.9 105.7,387.4 103.1,393.4 103.7,396.3 102.9,397.9 102.9,399.7 104.5,402.3 105.8,407.1 106.6,409.6 110.6,414.9 110.5,422.9 109.4,432.7 108.4,437.6 108.2,440.1 108.7,443.7 107.0,449.9 107.3,454.8 108.8,457.4 111.0,459.9 113.3,460.7 113.6,460.6 115.0,459.6 115.2,459.3 115.1,459.0 112.7,457.1 112.8,456.2 112.4,454.8 114.6,451.1 114.6,450.7 113.5,448.8 115.0,447.6 116.1,444.8 115.4,442.9 117.0,442.8 117.3,440.4 119.9,439.6 120.1,439.3 120.8,437.1 120.2,434.8 121.2,435.3 123.0,435.0 123.3,434.7 126.7,427.4 126.9,424.3 127.8,422.6 129.9,420.8 132.2,419.4 133.6,413.9 133.6,409.0 135.0,406.6 136.5,402.3 136.4,400.3 132.8,395.5 129.5,395.0 127.1,392.9 125.8,392.1 125.8,391.0 124.6,386.5 122.8,385.0 120.7,384.6 117.7,380.0 117.8,379.6 117.7,379.2 117.4,379.1 117.1,379.2 112.8,379.1 111.2,377.9 110.5,378.5 110.6,377.2 110.2,376.8 107.2,378.9 106.0,381.3 104.9,380.3 104.1,380.7 102.7,380.9 102.0,378.8 102.2,374.0 102.0,373.6 100.1,372.7 98.7,372.4 99.3,369.7 99.6,366.1 99.5,365.7 99.1,365.6 96.7,366.3 96.4,366.6 95.7,369.4 94.0,369.6 93.2,368.9 92.1,364.8 92.2,361.2 92.5,358.3 94.4,356.6 96.0,356.6 97.4,357.0 97.8,356.7 98.1,355.8 99.9,355.7 101.0,356.0 102.7,360.7 103.7,361.7 104.2,361.7 104.6,359.3 103.7,355.6 103.9,353.3 105.9,351.0 107.6,349.4 107.8,349.1 107.4,347.1 108.8,343.1 111.4,341.7 111.7,341.4 111.3,340.8 111.6,339.3 113.6,337.9 113.7,337.8 113.8,339.4 114.3,339.4 118.0,336.1 117.8,335.7 115.5,334.6 115.1,332.1 114.6,332.1 112.9,333.2 114.3,331.3 119.1,330.9 119.6,330.6 118.5,334.1 121.0,335.2 122.5,335.6 123.6,335.2 123.9,334.8 123.6,332.8 121.6,329.0 121.8,328.6 121.6,327.4 118.7,324.8 115.3,318.2 114.8,318.3 114.1,319.3 112.7,320.5 112.0,319.9 111.7,317.6 111.5,317.3 108.5,315.7 105.6,315.5 105.3,315.6 105.2,315.9 105.5,318.9 105.2,320.8 105.9,323.7 104.5,326.1 104.5,329.0 104.0,329.1 103.4,327.8 103.8,327.8 104.0,327.5 103.7,327.2 103.1,327.1 102.7,324.8 100.8,324.3 98.6,322.8 95.6,322.2 94.3,320.1 95.3,316.7 97.0,315.0 98.3,314.3 100.0,316.0 100.5,316.2 101.6,316.0 102.4,316.3 103.1,316.2 103.4,315.7 104.2,315.5 104.6,315.2 104.8,314.5 104.3,312.9 102.1,311.2 103.5,310.6 103.2,307.6 105.4,307.6 106.6,308.3 105.5,308.6 105.0,309.3 105.0,309.9 105.6,310.7 106.7,311.0 107.9,310.6 107.6,312.3 105.4,312.5 104.8,312.8 104.7,313.5 105.0,314.2 108.7,314.9 110.2,316.1 114.5,317.6 115.2,317.6 115.6,317.2 115.7,316.6 115.4,315.7 116.0,315.4 116.4,315.0 118.2,311.0 118.1,310.2 114.1,307.9 113.5,306.3 113.2,305.9 110.3,304.0 107.9,303.0 107.8,302.3 107.0,301.6 105.1,301.2 105.1,299.7 106.5,299.7 107.0,299.4 108.4,296.4 108.7,296.3 108.9,296.6 111.1,298.5 113.9,299.7 119.2,300.3 120.8,302.6 121.5,305.0 123.7,306.5 122.9,306.4 122.3,306.5 122.1,306.9 122.6,310.5 124.3,314.2 126.5,317.9 129.0,319.4 130.4,319.3 130.8,319.0 131.5,316.0 132.8,313.1 134.9,312.3 138.3,309.5 142.7,308.8 145.5,306.4 145.6,304.3 147.0,302.0 148.1,299.5 147.8,297.0 149.1,294.7 152.5,293.0 152.7,292.7 152.6,292.4 152.3,292.2 148.1,292.2 143.1,290.4 136.1,289.6 117.8,291.7 117.8,290.9 117.0,290.4 111.3,289.8 104.1,289.8 96.8,291.1 95.1,292.4 93.1,292.4 92.6,293.0 92.6,295.4 91.4,295.7 90.5,294.8 88.7,294.5 86.7,294.8 85.8,295.6 85.5,296.2 85.7,296.9 86.9,297.8 86.3,298.4 83.4,298.0 84.0,297.4 84.0,296.7ZM80.0,298.0 80.0,297.7 80.3,298.0ZM91.1,297.2 91.5,297.7 92.2,297.8 92.0,298.0 91.6,297.8 90.4,297.8ZM93.7,297.5 97.3,297.3 97.0,297.5ZM92.3,301.0 92.3,301.2 92.2,301.2ZM93.1,307.0 91.8,306.5 90.6,306.8 89.9,307.8 90.4,308.7 88.5,308.7 84.5,309.9 83.7,309.2 85.3,309.1 89.1,308.1 89.5,307.6 90.1,305.4 92.2,305.8 92.7,305.6 93.0,305.2 93.8,305.0 93.3,307.2ZM73.4,332.8 73.0,331.9 73.6,332.5ZM96.2,304.8 96.2,305.3 96.6,305.6 100.0,307.4 99.1,308.7 97.3,308.2 96.0,307.0 94.8,304.9ZM79.3,301.4 85.1,302.1 83.0,302.1 79.6,301.7ZM86.1,302.1 86.7,301.4 88.5,301.5 88.1,302.8 86.8,302.1ZM98.0,301.9 97.9,301.3 100.1,301.5ZM102.4,338.3 102.1,336.9 101.8,336.5 103.2,336.5 103.7,337.6 102.9,338.8ZM100.4,335.0 98.9,335.0 96.9,334.8 98.0,334.0 99.7,333.5 100.4,334.9ZM99.1,340.2 99.3,337.9 99.0,336.6 100.2,336.5 100.2,337.2 99.4,338.9ZM92.1,329.3 91.8,328.6 91.3,326.9 91.5,326.9ZM82.3,316.3 80.7,317.1 78.8,317.5 80.3,316.2 82.1,315.9ZM76.4,310.8 76.8,311.5 75.7,312.4 74.4,312.4 74.2,311.3ZM33.4,305.0 33.4,305.7 35.2,305.2 35.2,305.1ZM33.0,307.9 33.1,313.1 33.4,313.2 33.7,313.1 34.6,312.0 36.0,312.5 38.1,314.0 38.5,314.0 39.4,313.7 41.0,311.7 41.1,311.4 40.9,311.1 35.7,308.4 33.5,307.5 33.2,307.6ZM41.3,314.8 41.0,314.4 40.3,314.3 39.6,314.4 39.3,314.8 39.6,315.1 40.3,315.2 41.0,315.1ZM104.7,316.1 104.3,315.8 104.0,316.0 103.8,316.5 104.0,316.9 104.3,317.1 104.7,316.9 104.8,316.5ZM43.7,318.8 43.5,318.4 43.1,318.3 42.6,318.4 42.5,318.8 42.6,319.2 43.1,319.3 43.5,319.2ZM53.0,321.3 52.6,321.1 51.9,321.5 51.4,322.2 51.3,322.9 51.8,323.1 52.4,322.7 52.9,322.0ZM44.7,325.9 44.5,325.6 44.0,325.5 43.6,325.6 43.3,325.9 43.6,326.2 44.0,326.2 44.5,326.2ZM42.9,326.9 42.7,326.6 42.2,326.5 41.8,326.6 41.6,326.9 41.8,327.1 42.2,327.2 42.7,327.1ZM67.6,326.3 67.2,325.9 66.7,326.3 66.6,327.1 66.7,327.9 67.1,328.3 67.6,327.9 67.7,327.1ZM41.5,327.6 41.3,327.3 40.8,327.3 40.4,327.3 40.2,327.6 40.4,327.9 40.8,328.0 41.3,327.9ZM39.4,328.3 39.2,328.1 38.7,328.0 38.2,328.1 38.0,328.3 38.2,328.6 38.7,328.7 39.2,328.6ZM37.6,328.7 37.4,328.4 36.9,328.4 36.5,328.4 36.3,328.7 36.5,329.0 36.9,329.1 37.4,329.0ZM36.2,329.0 36.0,328.7 35.5,328.6 35.1,328.7 34.8,328.9 35.1,329.2 35.5,329.3 36.0,329.2ZM34.8,329.2 34.6,328.9 34.1,328.8 33.6,328.9 33.4,329.2 33.6,329.5 34.1,329.6 34.6,329.5ZM106.6,359.8 106.4,359.6 105.9,359.5 105.5,359.6 105.3,359.8 105.5,360.0 105.9,360.1 106.4,360.0ZM105.8,361.9 105.6,361.6 105.3,362.0 105.3,363.3 105.6,363.6 105.8,363.3ZM48.2,365.4 47.9,365.1 47.6,365.4 47.9,365.7ZM100.2,365.4 100.3,365.7 100.6,365.8 102.0,365.8 104.0,366.2 105.3,367.2 105.7,368.3 108.3,368.0 108.7,367.6 108.0,366.7 105.0,364.1 102.5,363.6 100.4,365.1ZM49.3,366.0 49.0,365.7 48.6,366.0 49.0,366.4ZM50.5,366.9 50.0,366.6 49.6,366.9 50.0,367.2ZM51.1,367.9 50.7,367.6 50.3,367.9 50.2,368.4 50.3,368.9 50.7,369.1 51.1,368.9 51.3,368.4ZM108.0,369.7 110.2,370.6 112.5,369.6 111.3,368.0 109.1,367.9ZM114.4,370.1 114.2,369.7 113.7,369.6 113.2,369.7 113.0,370.1 113.2,370.4 113.7,370.5 114.2,370.4ZM106.9,370.2 106.6,369.9 106.1,369.8 105.5,369.9 105.3,370.2 105.5,370.5 106.1,370.6 106.6,370.5ZM45.4,489.2 46.1,490.8 50.1,490.3 49.7,489.0ZM197.5,292.6 193.9,293.7 193.7,294.1 194.0,294.5 199.7,294.8 204.7,294.2 205.1,293.8 203.2,292.2ZM180.0,294.0 174.9,293.4 168.5,294.7 168.2,295.1 170.4,297.8 172.6,299.0 173.0,298.9 175.8,297.3 176.1,297.6 176.7,297.7 177.4,297.5 177.7,297.1 177.4,296.7 176.9,296.6 180.1,294.8 180.3,294.5 180.2,294.2ZM155.4,305.5 154.9,305.2 154.4,305.5 154.9,305.7ZM196.4,307.8 196.2,307.4 195.6,307.2 195.1,307.4 194.8,307.8 195.1,308.2 195.6,308.3 196.2,308.2ZM143.5,313.3 144.8,314.7 147.6,315.1 150.3,314.0 151.6,312.8 149.8,310.7 149.5,310.6 145.2,310.7 143.1,312.1ZM156.2,316.4 155.8,316.1 155.5,316.5 155.8,316.9ZM160.1,318.1 159.9,317.9 159.7,318.1 159.7,318.9 159.9,319.2 160.1,319.0ZM177.4,320.9 177.2,320.6 176.7,320.5 176.3,320.6 176.1,320.9 176.3,321.2 176.7,321.3 177.2,321.2ZM156.1,321.0 155.8,320.7 155.6,321.0 155.6,322.2 155.8,322.5 156.1,322.2ZM174.1,321.5 173.9,321.3 173.7,321.5 173.7,322.4 173.9,322.7 174.1,322.4ZM172.2,324.0 172.8,323.4 173.0,320.9 174.0,320.1 174.4,319.1 174.3,318.7 173.5,317.6 173.6,316.3 176.2,313.7 176.7,312.5 177.8,312.2 178.1,312.4 175.6,315.0 175.5,316.5 175.6,318.1 176.8,319.3 177.2,319.4 179.3,318.8 180.9,318.6 181.2,318.9 180.6,319.1 178.5,319.1 177.3,319.5 177.1,319.8 177.1,320.1 177.7,321.1 177.6,321.7 176.9,321.4 176.5,321.4 175.4,322.3 175.3,322.6 175.3,324.3 174.5,325.2 173.8,324.9 172.3,325.3 170.9,325.9 169.8,325.4 168.7,325.4 168.2,325.1 168.6,324.7 168.3,324.3 168.6,323.2 168.7,321.8 168.6,321.5 168.1,321.4 167.3,322.0 166.5,322.2 166.2,322.6 166.2,324.4 166.6,325.3 166.5,326.1 164.1,327.1 163.0,329.1 162.1,329.6 162.3,327.6 161.3,327.2 161.1,326.4 160.1,324.8 159.6,323.7 159.7,321.5 158.9,321.3 159.0,320.4 158.7,320.2 157.3,320.2 156.9,320.5 156.4,321.8 156.2,323.1 156.5,324.6 156.2,324.4 154.9,324.5 153.5,325.7 153.3,326.1 153.7,327.1 153.3,328.3 153.4,329.4 155.1,329.5 156.6,328.7 156.8,328.4 157.3,325.6 158.2,325.7 158.2,326.6 157.5,326.7 157.2,327.1 157.4,328.3 156.9,328.6 156.8,329.1 157.5,329.5 156.4,330.8 156.5,331.4 158.4,331.2 161.6,330.1 161.5,330.7 160.8,331.4 160.1,331.5 159.5,331.1 159.2,331.3 159.1,331.6 159.2,332.3 158.6,332.2 157.1,332.8 157.2,333.8 157.4,334.1 158.9,334.9 159.6,336.1 159.6,337.6 159.2,338.8 155.2,338.5 154.0,339.4 153.9,339.8 154.2,341.9 153.7,344.8 154.2,345.4 154.1,347.1 154.2,347.4 154.6,347.5 155.7,347.3 156.4,348.2 156.2,348.4 155.8,349.9 154.4,351.2 153.6,353.7 153.3,356.1 151.2,358.2 150.2,360.4 149.1,363.5 148.4,366.6 148.9,369.1 148.7,372.7 148.0,374.4 148.6,377.4 150.7,380.9 151.1,382.1 152.4,384.3 155.2,387.3 155.7,387.3 157.6,386.4 159.6,386.8 162.6,385.0 163.7,385.1 164.7,387.3 165.0,387.5 166.7,387.3 166.9,387.6 166.7,388.1 166.9,388.6 167.2,388.4 167.1,391.1 166.6,393.4 167.2,395.6 168.7,398.0 169.8,403.4 170.0,407.6 168.9,411.2 168.8,413.9 170.7,420.6 171.0,424.8 172.4,429.2 173.4,434.3 174.7,435.3 175.1,435.3 177.2,434.4 179.4,434.2 181.3,432.7 184.1,427.4 184.5,423.7 186.2,421.8 186.3,420.5 186.0,416.7 187.3,414.4 189.1,412.7 189.9,410.2 189.9,405.2 188.8,400.4 189.5,396.2 191.9,392.6 195.1,387.0 197.2,380.7 197.3,377.7 197.1,377.3 196.8,377.3 193.9,378.3 192.4,379.0 191.8,378.1 191.8,377.2 192.9,377.0 195.3,375.6 197.9,373.1 200.3,371.2 201.4,369.7 202.0,369.2 203.5,365.1 203.5,364.7 202.6,363.3 201.3,362.4 200.6,360.2 200.1,360.3 198.8,362.3 197.9,362.3 197.3,360.4 197.1,360.2 196.6,360.3 195.5,357.4 195.2,355.9 195.4,355.8 196.2,356.5 196.9,358.5 198.1,359.7 199.5,360.2 200.6,359.6 202.5,361.7 204.4,362.0 207.7,361.8 208.9,364.0 209.8,364.4 209.4,364.8 209.3,365.3 210.7,367.1 211.3,367.2 211.9,366.9 212.1,371.0 214.4,380.8 215.3,382.6 215.8,382.8 217.2,380.9 217.1,382.6 217.4,385.1 218.2,384.9 218.8,383.8 218.3,381.9 217.4,380.5 217.7,379.8 218.0,373.6 219.4,372.1 221.3,368.8 222.4,368.0 222.7,366.6 225.3,365.5 225.6,366.2 226.6,368.0 227.3,370.4 227.2,373.0 228.4,373.4 229.1,372.4 229.4,372.1 229.5,372.3 229.8,375.3 230.3,377.7 230.0,382.3 230.9,383.9 232.2,389.1 229.9,385.6 228.4,385.1 228.1,385.1 227.9,385.6 228.4,387.7 230.3,390.4 230.5,391.9 231.4,393.7 231.9,395.6 232.8,397.4 234.4,399.6 235.3,399.8 234.9,400.8 236.0,401.8 239.3,402.9 243.5,403.8 245.6,404.7 248.1,405.3 249.0,405.2 251.0,402.9 250.9,402.3 249.2,402.4 248.6,403.0 248.2,402.3 247.9,402.1 242.2,402.0 242.1,401.6 240.8,400.5 239.5,399.8 239.2,399.8 238.8,400.3 236.1,399.2 236.2,396.0 236.1,395.6 236.4,395.0 236.2,394.6 235.8,394.4 235.4,394.6 234.1,391.3 232.4,389.4 233.8,390.9 234.4,391.1 234.9,390.9 234.5,389.2 234.4,387.4 234.1,385.5 233.2,384.2 232.3,383.5 231.5,379.5 232.0,377.1 232.9,377.9 233.7,379.7 234.7,380.3 234.7,381.8 235.1,382.2 236.5,381.0 236.9,380.0 238.4,378.6 238.6,376.4 237.8,372.7 236.5,370.8 236.1,369.1 236.7,367.5 237.4,366.4 238.0,366.4 238.6,367.8 237.7,368.7 237.7,369.5 238.7,370.0 239.4,368.2 238.8,367.9 239.2,367.7 239.7,366.6 241.9,365.3 243.9,363.8 245.4,361.9 247.2,357.9 247.5,356.0 247.4,353.8 245.7,349.5 246.7,347.9 247.8,347.0 247.9,346.6 247.7,346.3 246.5,345.7 245.2,346.2 244.7,344.9 245.4,344.6 246.5,342.9 246.7,343.0 246.4,344.5 246.7,345.0 248.6,344.1 249.1,344.3 248.9,345.8 249.8,347.2 250.0,350.4 250.5,350.5 252.6,349.2 252.8,348.9 252.7,347.1 251.5,343.7 252.7,342.4 253.1,340.7 255.2,340.3 257.0,338.7 258.8,336.3 260.2,333.8 260.8,330.2 260.9,336.1 261.1,336.4 261.4,336.4 262.7,335.8 262.3,334.8 263.4,332.6 263.4,332.2 262.6,331.0 262.4,327.5 261.7,325.7 261.4,325.5 261.1,325.6 260.9,325.9 260.8,327.4 260.0,326.5 258.0,325.9 257.3,325.4 257.9,324.9 258.0,325.3 258.6,325.3 258.7,325.0 258.6,324.8 258.1,324.7 262.2,320.2 266.2,319.9 268.5,320.5 270.6,320.2 270.9,320.0 272.2,317.4 274.0,317.1 275.5,317.4 275.1,318.1 273.1,320.5 270.8,322.5 270.5,326.4 271.5,330.0 271.0,330.3 270.8,331.0 270.3,331.3 270.1,332.0 270.4,332.1 270.7,331.8 270.9,331.1 271.4,330.8 271.6,330.1 272.0,330.3 272.2,330.2 276.5,325.3 276.5,324.8 275.9,323.8 276.5,321.6 278.5,319.3 281.1,319.3 282.8,318.0 284.8,317.1 287.9,316.0 287.1,313.7 287.8,313.7 288.6,312.8 288.6,307.9 288.3,307.5 285.4,306.5 281.9,306.3 281.4,306.6 281.2,307.3 279.7,306.3 275.5,306.8 274.1,306.3 268.6,305.1 267.0,303.8 260.7,302.9 259.7,303.2 253.1,305.0 252.3,303.3 250.8,303.2 248.8,301.8 244.3,302.4 241.4,302.1 241.5,301.7 241.2,299.3 240.9,299.0 236.7,297.7 234.8,296.9 234.4,296.9 231.5,298.3 227.2,298.9 222.3,300.2 218.0,302.0 217.7,302.5 218.2,304.0 215.9,303.5 213.6,304.0 212.9,308.5 212.5,305.5 212.8,303.4 211.3,303.0 211.7,302.6 211.4,302.3 210.9,302.3 210.4,302.4 210.2,302.7 209.5,302.6 209.3,302.8 207.7,305.2 207.8,307.5 206.9,307.1 203.5,306.6 203.3,306.3 202.9,306.1 202.5,306.3 202.3,306.7 202.5,307.1 202.7,307.2 202.4,307.5 196.1,308.7 193.8,309.7 193.8,309.1 193.5,308.8 191.8,308.1 191.5,308.5 191.5,310.6 190.2,310.9 190.4,310.5 190.2,309.1 190.0,308.8 186.4,307.3 184.3,307.0 182.9,305.9 180.8,305.1 178.9,305.0 174.8,306.3 173.0,307.2 171.1,308.5 169.7,310.1 168.9,312.0 167.9,313.1 164.1,316.1 163.9,316.5 163.9,318.4 164.4,320.5 165.5,321.6 165.8,321.8 166.8,321.5 168.2,320.1 168.9,322.1 169.3,323.8 168.5,323.9 168.7,324.9 170.9,324.9 171.2,324.7 171.4,324.1ZM169.6,345.8 169.6,346.4 171.6,347.5 171.8,346.3 172.2,346.3 172.7,345.8 173.3,344.8 173.2,344.4 172.9,343.9 173.1,343.3 174.1,343.6 174.3,343.3 175.6,345.6 175.4,346.2 175.8,347.4 176.4,348.0 177.1,348.1 177.5,347.7 177.6,346.6 178.0,346.5 178.2,346.2 178.1,345.6 177.3,344.2 177.3,343.6 177.6,343.8 177.9,343.7 178.1,342.8 178.9,342.9 179.0,344.2 179.5,345.3 179.7,347.5 180.0,347.8 181.2,348.3 182.5,347.8 184.0,348.5 184.4,348.5 185.3,347.8 186.0,347.8 185.7,350.1 184.8,353.7 184.0,353.8 182.6,353.4 181.3,354.0 178.7,353.2 176.6,351.8 176.2,351.7 175.0,352.2 174.7,352.5 174.3,354.5 173.4,354.1 171.8,352.5 169.0,351.4 168.5,350.5 168.9,349.7 168.6,348.3 169.0,346.9 168.1,346.3 162.9,346.9 159.4,348.8 157.5,348.2 157.8,347.8 159.5,347.6 160.7,346.5 161.3,345.2 161.0,344.1 161.7,342.7 163.3,341.4 163.5,341.0 163.3,340.4 163.6,339.7 164.2,339.6 165.0,340.0 165.5,339.9 167.1,338.4 167.3,338.5 167.7,339.3 168.3,340.7 171.5,343.6 171.5,345.5ZM187.4,365.4 186.3,362.8 185.1,358.8 185.3,358.6 187.0,362.7 189.1,369.2 190.5,372.3 191.0,375.7 188.8,372.6 187.7,369.6ZM170.7,338.8 170.0,338.1 169.9,337.2 170.4,337.0 171.8,339.3 173.6,340.6 174.2,341.4 174.1,342.9 172.4,340.8 171.2,340.2ZM212.8,309.0 212.7,309.0 212.8,308.7ZM187.8,311.7 188.8,311.4 188.7,312.9 187.0,313.6 185.5,313.1 184.8,311.3ZM202.6,337.7 202.6,335.8 203.6,335.8 203.9,337.2 203.2,338.3ZM197.9,335.9 197.9,337.0 196.8,337.3 196.5,337.5 196.2,339.0 196.2,339.4 197.3,340.6 197.9,341.7 197.9,343.4 198.6,344.7 198.5,346.5 197.6,347.0 196.5,346.4 195.9,345.2 196.2,342.9 194.8,339.6 194.5,337.8 194.5,336.8 195.7,335.8 197.2,335.5ZM183.9,336.2 183.5,336.7 184.2,338.1 184.6,338.3 186.7,337.4 187.1,338.0 189.5,339.9 189.7,341.3 188.7,341.8 187.1,341.5 185.8,340.6 184.5,340.5 183.0,341.4 181.6,341.6 181.0,341.0 180.9,340.1 181.5,338.7 182.8,335.8 183.0,335.7ZM187.2,335.5 186.6,336.6 186.2,336.6 186.1,335.9ZM183.8,395.0 183.7,392.4 184.5,392.5 184.2,395.0ZM182.7,318.5 182.5,317.8 182.8,317.4 183.7,317.9 183.5,318.3ZM117.4,331.8 117.0,331.4 116.2,331.3 115.4,331.4 115.1,331.8 115.4,332.1 116.2,332.2 117.0,332.1ZM166.8,339.8 166.9,341.5 167.6,341.8 167.6,339.7ZM166.6,341.9 166.7,344.6 167.6,344.6 167.7,342.0ZM163.4,343.9 163.3,343.5 162.9,343.4 162.6,343.5 162.4,343.9 162.6,344.2 162.9,344.4 163.3,344.2ZM177.4,348.7 177.5,349.3 179.4,349.5 179.4,349.1ZM183.6,349.4 183.9,350.1 184.9,349.7 185.4,348.6ZM151.1,357.0 150.9,356.8 150.7,357.1 150.7,357.9 150.9,358.1 151.1,357.9ZM149.5,357.7 149.1,357.4 148.7,357.7 149.1,358.0ZM150.0,357.9 149.6,357.9 149.6,358.3 149.9,358.3ZM144.3,373.6 144.1,373.5 143.9,373.6 143.9,374.1 144.1,374.3 144.3,374.1ZM199.5,377.1 199.3,376.8 198.9,376.7 198.4,376.8 198.2,377.1 198.4,377.3 198.9,377.4 199.3,377.3ZM191.9,406.6 191.6,406.3 191.3,406.7 191.6,407.0ZM195.5,418.1 196.2,413.2 196.8,411.3 196.1,407.0 195.9,406.7 195.6,406.7 195.3,406.9 193.0,411.3 191.5,413.2 191.8,416.8 191.1,419.3 191.4,421.3 192.6,423.7 192.9,423.9 193.2,423.9 194.6,422.8ZM120.0,455.6 119.6,455.2 118.8,455.0 118.0,455.2 117.7,455.6 118.0,456.1 118.8,456.3 119.6,456.1ZM135.6,459.3 135.4,458.9 134.9,458.5 134.3,458.2 134.0,458.3 134.1,458.7 134.6,459.2 135.2,459.4ZM86.4,484.1 79.4,484.0 70.9,484.4 65.2,485.0 58.9,485.2 54.5,486.6 54.2,487.0 55.0,487.9 52.2,488.8 52.2,489.3 53.1,490.1 50.8,490.8 50.9,491.3 51.7,491.8 49.7,493.2 48.7,495.5 40.5,495.9 33.1,495.7 33.0,502.5 33.4,502.9 288.2,502.9 288.6,502.5 288.5,496.1 282.6,495.4 277.7,494.2 275.7,492.8 276.5,491.1 279.7,489.1 278.7,485.5 281.0,483.5 281.5,481.2 281.4,480.8 281.1,480.7 279.0,480.7 276.6,480.1 271.4,477.9 267.1,476.8 264.2,475.2 261.3,474.6 256.2,474.6 249.3,474.0 242.7,474.1 238.6,473.5 235.1,473.7 229.1,473.5 223.1,474.0 217.9,474.9 215.1,477.1 213.0,478.3 211.4,480.1 209.3,477.8 208.6,476.0 208.2,475.8 202.0,475.2 199.6,474.0 189.0,476.8 185.5,477.0 182.0,477.6 167.8,478.5 157.2,479.5 153.7,480.4 149.6,483.1 147.2,484.4 142.9,485.6 139.4,487.5 132.3,490.5 128.9,491.7 114.8,492.3 107.8,491.7 103.6,490.7 104.4,490.0 107.8,489.4 114.1,488.8 117.3,487.3 116.3,484.8 117.3,483.6 118.0,481.2 117.3,478.0 117.7,475.1 119.4,472.7 120.3,470.3 120.3,470.0 119.8,469.8 118.1,470.4 113.1,474.7 111.0,477.1 109.4,478.5 109.3,478.9 109.6,479.6 107.9,480.2 107.7,480.0 107.3,480.1 105.4,481.3 102.7,482.3 97.1,483.1 90.0,483.3ZM124.7,489.0 125.4,491.1 129.0,490.7 128.3,489.0ZM227.4,293.3 226.9,293.7 227.4,294.1 227.8,294.1 227.6,294.4 227.7,295.9 231.4,297.3 233.2,296.8 234.4,296.6 235.5,295.8 235.3,295.3 230.3,292.9 230.0,292.9 229.2,293.3ZM199.5,300.8 196.9,304.2 196.9,305.7 198.3,306.2 201.8,306.1 201.8,305.6 200.5,303.6 200.8,302.6 203.5,300.3 209.0,298.7 209.3,298.5 209.3,298.2 209.0,298.0 207.4,297.7 202.5,298.9ZM252.4,349.8 252.2,349.9 252.1,350.2 252.3,350.8 252.5,350.3ZM254.4,350.9 255.0,352.3 256.1,351.1 256.0,350.6 256.1,350.6 256.7,351.5 257.2,351.7 258.0,350.4 259.0,350.3 260.3,349.7 260.8,348.5 261.0,345.9 261.7,344.2 261.0,341.5 261.2,340.8 262.0,341.3 262.5,341.2 264.1,339.6 264.2,339.2 263.6,338.1 262.3,337.6 261.1,336.4 260.7,336.8 260.6,338.9 259.7,339.7 259.5,341.5 259.6,341.8 260.1,342.0 259.5,342.7 259.3,344.5 258.9,345.5 258.7,345.4 258.6,345.6 258.5,346.4 257.3,346.9 256.5,348.4 254.5,348.6 253.2,349.8 253.1,350.7 253.3,351.1ZM250.7,351.5 250.3,351.2 250.0,351.5 250.3,351.8ZM252.8,351.3 252.6,352.3 253.2,354.5 254.0,353.8 254.1,351.3ZM251.7,359.7 251.7,359.4 251.4,359.4 251.1,360.1 251.1,360.5 251.4,360.4ZM246.8,361.4 246.2,362.2 245.7,364.2 246.3,365.5 247.1,362.4ZM246.0,369.6 245.7,372.8 246.4,375.6 246.1,376.4 246.2,377.1 246.5,377.4 246.8,377.1 246.9,376.4 246.7,375.7 247.5,375.7 248.6,377.0 248.6,376.4 247.2,375.2 246.9,374.0 247.2,372.2 247.4,369.8ZM226.6,375.7 226.3,376.2 226.2,377.3 226.3,378.4 226.5,379.0 226.7,378.4 226.8,377.3ZM248.7,377.0 248.9,379.8 249.3,380.2 249.8,378.9 249.7,377.3ZM247.1,377.8 247.1,379.5 247.9,381.2 248.3,379.5 247.9,378.2ZM243.7,382.1 245.5,379.5 245.3,378.4 243.9,381.1ZM249.1,380.3 248.7,380.0 248.3,380.4 248.7,380.7 249.0,380.6ZM247.1,383.8 248.0,383.3 249.5,385.4 250.1,384.7 250.4,382.6 249.7,380.4 248.1,381.9ZM243.6,394.3 244.5,391.7 245.4,391.3 245.4,390.9 244.7,389.8 244.6,388.7 244.7,387.2 245.6,386.0 243.5,383.4 243.0,383.6 242.2,385.4 241.1,386.7 240.5,388.1 239.4,388.7 239.0,389.7 238.4,389.5 238.0,389.7 237.5,390.5 237.5,393.0 238.3,394.3 238.4,396.1 238.7,396.4 239.9,396.9 241.2,396.9 241.6,397.7 243.2,397.5ZM229.9,390.3 229.5,390.4 229.5,390.8 229.9,391.6 230.2,391.6 230.3,391.2ZM251.0,389.8 250.9,391.1 251.4,393.4 252.0,392.0 251.8,390.5ZM230.9,393.6 230.6,393.5 230.5,393.9 230.8,394.8 231.1,394.9 231.2,394.5ZM248.2,399.3 247.9,398.2 248.1,396.5 247.4,394.8 248.2,394.1 248.5,393.4 248.1,393.1 246.4,393.1 246.2,392.5 246.6,392.1 249.2,392.1 249.7,390.5 249.4,390.0 247.8,390.7 246.4,390.4 246.0,390.5 245.2,391.7 244.5,395.6 245.0,396.7 245.1,399.4 245.7,399.4 246.3,398.8 246.4,397.2 246.9,398.8 247.6,399.4 247.9,399.5ZM237.5,395.6 237.2,395.5 237.0,395.6 237.0,396.2 237.2,396.3 237.5,396.2ZM249.9,396.2 250.0,396.9 250.4,397.1 252.1,396.8 253.5,396.4 251.4,395.8 250.4,395.9ZM254.2,401.4 253.9,401.3 253.6,401.4 253.6,402.1 253.9,402.3 254.2,402.1ZM201.8,416.9 201.6,416.8 201.4,417.0 201.4,417.4 201.5,417.6 201.8,417.4ZM200.3,417.9 200.1,417.8 199.9,417.9 199.9,418.4 200.1,418.6 200.3,418.4ZM210.7,452.7 210.5,452.2 210.0,452.1 209.5,452.2 209.3,452.7 209.5,453.1 210.0,453.3 210.5,453.1ZM258.5,298.9 257.3,300.1 257.5,300.2 257.4,300.6 257.7,301.0 262.1,301.2 267.0,300.7 267.3,300.5 267.3,300.2 267.1,299.9 264.1,298.9ZM262.6,302.3 262.2,301.9 261.3,301.8 260.4,301.9 260.0,302.3 260.4,302.6 261.3,302.7 262.2,302.6ZM287.1,305.4 288.2,305.7 288.3,305.1 288.2,305.0ZM283.9,327.7 283.7,327.5 283.2,327.4 282.8,327.5 282.6,327.7 282.8,328.0 283.2,328.1 283.7,328.0ZM285.3,328.3 285.1,328.1 284.7,328.0 284.2,328.1 284.0,328.3 284.2,328.6 284.7,328.7 285.1,328.6ZM287.5,329.0 287.2,328.7 286.8,328.6 286.3,328.7 286.1,328.9 286.3,329.2 286.8,329.3 287.2,329.2ZM269.8,332.5 269.6,332.4 269.3,332.7 269.1,333.5 269.3,333.6 269.6,333.3ZM268.8,334.1 268.5,334.0 268.2,334.3 268.0,335.1 268.3,335.2 268.6,334.9ZM267.4,335.3 267.1,335.2 266.8,335.5 266.6,336.3 266.8,336.4 267.1,336.1ZM265.9,336.4 265.7,336.3 265.4,336.6 265.0,337.9 265.2,337.9 265.6,337.5ZM264.9,337.2 264.6,337.2 264.3,337.5 264.1,338.3 264.4,338.3 264.7,338.0ZM257.5,393.6 257.1,393.2 256.7,393.3 256.6,393.6 256.7,393.9 257.1,394.0 257.4,393.9ZM265.3,394.9 264.8,394.6 264.4,394.9 264.8,395.2ZM269.2,397.8 269.1,397.1 268.6,396.2 267.9,395.5 267.5,395.3 267.7,395.9 268.2,396.8 268.8,397.6ZM265.7,399.0 265.9,399.8 267.4,400.0 268.7,398.5 268.5,397.5ZM258.4,400.2 257.9,401.0 258.1,402.6 258.3,402.9 259.1,402.6 260.6,403.9 262.0,403.8 262.4,403.5 262.9,402.2 263.8,402.5 264.6,404.3 266.4,405.4 267.4,405.4 267.7,405.1 267.7,404.7 265.3,400.7 265.6,399.8 265.5,399.4 263.3,396.7 260.8,395.2 258.3,394.1 257.8,394.2 256.7,395.8 256.2,395.2 256.0,393.3 255.8,393.0 254.7,392.5 253.4,393.0 253.1,393.4 253.3,394.3 254.5,396.1 254.4,396.5 254.5,397.3 254.8,397.6 256.2,398.1 258.1,399.3ZM271.2,400.1 270.5,399.0 270.1,399.1 270.1,399.6 270.4,400.2 270.8,400.6 271.1,400.6 271.8,401.7 272.3,402.1 272.7,402.1 272.6,401.5 272.1,400.9 271.5,400.5 271.2,400.5ZM256.3,399.2 256.0,398.9 255.7,399.2 255.7,400.6 256.0,401.0 256.3,400.6ZM274.8,404.8 274.7,404.2 274.2,403.6 273.6,403.2 273.3,403.2 273.4,403.7 273.9,404.4 274.5,404.8ZM275.8,405.6 275.4,404.9 275.1,404.7 274.9,404.7 275.2,405.5 275.5,405.7ZM279.2,409.9 278.9,410.3 278.8,411.3 278.9,412.3 279.1,412.7 279.4,412.3 279.4,411.3ZM288.2,412.7 287.7,412.3 287.2,412.7 287.7,413.0ZM287.3,414.1 287.2,413.7 286.8,413.6 286.4,413.7 286.2,414.1 286.4,414.5 286.8,414.7 287.2,414.5ZM278.8,419.5 278.7,418.9 278.1,418.1 277.5,417.4 277.0,417.3 277.2,417.9 277.8,418.8 278.4,419.4ZM244.6,435.5 245.9,434.2 248.4,434.2 248.9,433.0 250.2,432.2 252.2,431.4 253.6,431.3 255.0,432.1 256.2,434.7 256.8,435.3 257.2,435.3 257.4,435.1 258.1,433.6 258.4,435.3 259.1,436.3 259.3,437.8 260.4,439.5 262.2,440.2 263.4,439.7 264.4,440.5 265.5,439.2 267.0,438.6 267.3,438.3 267.4,437.1 269.5,430.3 269.9,427.4 269.6,425.3 269.1,422.7 267.0,419.1 266.3,417.0 264.7,415.3 264.0,410.6 262.9,409.6 262.7,407.5 262.0,405.3 261.8,405.1 261.5,405.1 261.3,405.3 260.6,408.2 260.6,410.7 260.1,413.3 259.4,413.2 258.5,411.7 257.1,410.6 257.4,409.0 258.0,407.4 258.0,407.1 257.6,406.9 256.5,406.9 254.5,405.7 254.2,406.1 254.2,406.8 253.2,407.2 252.5,408.0 252.1,410.1 251.5,410.1 250.2,409.2 249.9,409.1 249.6,409.3 248.0,413.0 247.2,412.8 247.0,413.1 246.4,415.7 242.7,417.4 240.9,418.9 240.7,419.3 240.7,424.2 242.3,431.5 241.8,434.3 241.9,434.6 242.8,435.3 244.2,435.6ZM284.5,443.6 284.9,443.7 285.2,443.5 286.2,442.2 286.5,440.7 287.2,440.1 287.4,438.4 287.3,438.1 287.0,438.0 285.6,438.0 284.4,435.3 283.0,434.1 282.7,434.2 282.6,434.6 284.0,437.7 284.0,439.4 283.4,440.5 284.2,441.8 284.1,442.6 283.3,441.7 283.0,441.5 282.7,441.7 281.1,444.7 279.8,445.9 278.7,447.2 278.3,448.8 279.7,449.6 280.7,449.8 281.1,449.7 282.0,448.6 282.3,447.0 283.5,446.0 283.6,445.4ZM263.2,442.1 263.6,444.1 264.1,445.6 265.2,445.4 265.8,444.0 265.8,442.4 264.5,442.4Z"/>
<clipPath id="c1"><use href="#land1" clip-rule="evenodd"/></clipPath>
<clipPath id="c2"><use href="#land2" clip-rule="evenodd"/></clipPath>
<clipPath id="b1"><rect x="45.7" y="20.25" width="233.40000000000003" height="201.65"/></clipPath>
<clipPath id="b2"><rect x="33.4" y="282.2" width="254.79999999999998" height="220.3"/></clipPath>
<linearGradient id="jet" x1="0" y1="1" x2="0" y2="0">
<stop offset="0" stop-color="#00008f"/>
<stop offset="0.11" stop-color="#0000ff"/>
<stop offset="0.36" stop-color="#00ffff"/>
<stop offset="0.61" stop-color="#ffff00"/>
<stop offset="0.86" stop-color="#ff0000"/>
<stop offset="1" stop-color="#800000"/>
</linearGradient>
<filter id="bl1" x="-50%" y="-50%" width="200%" height="200%"><feGaussianBlur stdDeviation="1.6"/></filter>
<filter id="bl2" x="-50%" y="-50%" width="200%" height="200%"><feGaussianBlur stdDeviation="0.9"/></filter>
<filter id="rough" x="-5%" y="-5%" width="110%" height="110%"><feTurbulence type="fractalNoise" baseFrequency="0.6" numOctaves="2" seed="3" result="n"/><feGaussianBlur in="SourceGraphic" stdDeviation="0.7" result="b"/><feDisplacementMap in="b" in2="n" scale="5" xChannelSelector="R" yChannelSelector="G"/></filter>
<filter id="rough2" x="-5%" y="-5%" width="110%" height="110%"><feTurbulence type="fractalNoise" baseFrequency="0.55" numOctaves="2" seed="8" result="n"/><feDisplacementMap in="SourceGraphic" in2="n" scale="7" xChannelSelector="R" yChannelSelector="G"/></filter>
<filter id="speck" x="0" y="0" width="100%" height="100%"><feTurbulence type="fractalNoise" baseFrequency="0.75" numOctaves="2" seed="11"/><feColorMatrix type="matrix" values="0 0 0 0 1  0 0 0 0 0.5  0 0 0 0 0.05  0 0 4 0 -2.05"/></filter>
</defs>
<rect width="322" height="550" fill="#fff"/>

<g id="axes1">
<path d="M65.15,20.25V221.9M97.57,20.25V221.9M129.98,20.25V221.9M162.40,20.25V221.9M194.82,20.25V221.9M227.23,20.25V221.9M259.65,20.25V221.9M45.7,210.70H279.1M45.7,188.29H279.1M45.7,165.89H279.1M45.7,143.48H279.1M45.7,121.08H279.1M45.7,98.67H279.1M45.7,76.26H279.1M45.7,53.86H279.1M45.7,31.45H279.1" stroke="#e4e4e4" stroke-width="0.6" fill="none"/>
<g clip-path="url(#b1)"><use href="#land1" fill="#e60b06"/>
<g clip-path="url(#c1)"><g filter="url(#bl1)">
<rect x="45.7" y="69.5" width="233.4" height="116.5" fill="#f01808" opacity="0.8"/>
<rect x="45.7" y="91.9" width="233.4" height="71.7" fill="#fb2c08" opacity="0.8"/>
<rect x="45.7" y="20.2" width="233.4" height="39.2" fill="#e20202"/>
<rect x="45.7" y="188.3" width="233.4" height="33.6" fill="#dc0000"/>
<path d="M113.8,27.0C119.4,25.3 149.4,24.4 155.9,27.0C162.4,29.6 155.9,37.8 152.7,42.7C149.4,47.5 140.8,54.6 136.5,56.1C132.1,57.6 129.1,54.8 126.7,51.6C124.4,48.4 124.4,41.2 122.2,37.1C120.0,32.9 108.2,28.7 113.8,27.0Z" fill="#df0000"/>
</g>
<g filter="url(#bl1)">
<path d="M150.7,103.7C156.8,103.2 180.6,103.4 187.0,104.3C193.5,105.1 188.1,108.2 189.6,108.8C191.1,109.3 195.2,106.3 196.1,107.6C197.0,108.9 195.9,113.8 194.8,116.6C193.7,119.4 191.1,124.2 189.6,124.4C188.1,124.6 187.0,119.8 185.7,117.7C184.4,115.7 184.1,113.2 181.9,112.1C179.6,111.0 175.4,111.3 172.1,111.0C168.9,110.7 165.3,110.6 162.4,110.4C159.5,110.2 156.6,110.3 154.6,109.9C152.7,109.4 151.4,108.7 150.7,107.6C150.1,106.6 144.7,104.3 150.7,103.7Z" fill="#ff6a10" opacity="0.5"/>
<path d="M170.2,137.9C171.7,137.3 177.1,138.8 179.3,140.1C181.4,141.4 182.7,143.3 183.1,145.7C183.6,148.1 182.7,152.4 181.9,154.7C181.0,156.9 179.3,158.3 178.0,159.2C176.7,160.0 175.0,160.8 174.1,159.7C173.1,158.6 172.8,155.2 172.1,152.4C171.5,149.7 170.5,145.9 170.2,143.5C169.9,141.1 168.7,138.4 170.2,137.9Z" fill="#ff8a10" opacity="0.5"/>
<path d="M184.4,79.6C185.7,77.4 190.3,78.1 192.2,76.3C194.2,74.4 193.5,69.9 196.1,68.4C198.7,66.9 203.7,67.7 207.8,67.3C211.9,66.9 216.6,66.2 220.8,66.2C224.9,66.2 229.4,66.6 232.4,67.3C235.4,68.0 238.0,68.8 238.9,70.7C239.8,72.5 239.1,76.3 237.6,78.5C236.1,80.7 231.8,82.2 229.8,84.1C227.9,86.0 228.3,88.8 225.9,89.7C223.6,90.6 218.2,88.6 215.6,89.7C213.0,90.8 211.9,95.5 210.4,96.4C208.9,97.4 208.0,95.7 206.5,95.3C205.0,94.9 203.2,92.3 201.3,94.2C199.4,96.1 196.7,104.3 194.8,106.5C193.0,108.8 191.6,108.9 190.3,107.6C189.0,106.3 188.0,101.7 187.0,98.7C186.1,95.7 184.9,92.9 184.4,89.7C184.0,86.5 183.1,81.9 184.4,79.6Z" fill="#ff8412" opacity="0.42"/>
<path d="M207.8,90.8C208.9,89.5 212.5,89.1 214.3,89.7C216.0,90.3 217.9,92.1 218.2,94.2C218.4,96.2 216.4,99.2 215.6,102.0C214.7,104.8 213.8,110.4 213.0,111.0C212.1,111.6 211.2,107.6 210.4,105.4C209.5,103.2 208.2,100.0 207.8,97.5C207.4,95.1 206.7,92.1 207.8,90.8Z" fill="#fa5a14" opacity="0.4"/>
<path d="M84.0,74.0C85.8,72.7 92.5,71.6 95.0,72.9C97.5,74.2 98.2,78.5 98.9,81.9C99.5,85.2 99.4,90.1 98.9,93.1C98.3,96.1 96.7,99.6 95.6,99.8C94.5,100.0 93.8,96.4 92.4,94.2C91.0,91.9 88.6,88.6 87.2,86.3C85.8,84.1 84.5,82.8 84.0,80.7C83.4,78.7 82.1,75.3 84.0,74.0Z" fill="#ff7a14" opacity="0.3"/>
<path d="M115.7,136.8C116.3,135.3 118.7,136.8 119.6,139.0C120.5,141.2 120.7,146.1 120.9,150.2C121.1,154.3 121.1,159.2 120.9,163.6C120.7,168.1 120.6,174.8 119.6,177.1C118.6,179.3 115.8,179.7 115.1,177.1C114.3,174.5 114.9,166.3 115.1,161.4C115.3,156.6 116.3,152.1 116.4,148.0C116.5,143.9 115.2,138.3 115.7,136.8Z" fill="#ff8a18" opacity="0.5"/>
<path d="M110.5,109.9C112.7,106.9 120.0,108.0 123.5,109.9C127.0,111.7 128.7,118.1 131.3,121.1C133.9,124.1 138.2,123.7 139.1,127.8C139.9,131.9 138.2,140.5 136.5,145.7C134.7,150.9 131.5,155.8 128.7,159.2C125.9,162.5 122.0,165.5 119.6,165.9C117.2,166.3 114.9,165.5 114.4,161.4C114.0,157.3 117.7,146.8 117.0,141.2C116.4,135.6 111.6,133.0 110.5,127.8C109.5,122.6 108.4,112.9 110.5,109.9Z" fill="#ff7018" opacity="0.3"/>
<path d="M152.0,107.6C154.2,107.1 163.9,111.0 168.9,112.1C173.9,113.2 178.4,113.2 181.9,114.4C185.3,115.5 188.5,115.1 189.6,118.8C190.7,122.6 189.2,131.5 188.3,136.8C187.5,142.0 186.2,146.5 184.4,150.2C182.7,153.9 179.9,158.4 178.0,159.2C176.0,159.9 174.1,158.0 172.8,154.7C171.5,151.3 171.0,145.0 170.2,139.0C169.3,133.0 170.0,122.8 167.6,118.8C165.2,114.9 158.5,117.3 155.9,115.5C153.3,113.6 149.9,108.2 152.0,107.6Z" fill="#ff7018" opacity="0.25"/>
<path d="M224.0,114.4C224.4,109.3 229.5,101.7 232.4,98.7C235.3,95.7 239.6,94.2 241.5,96.4C243.4,98.7 241.1,107.3 244.1,112.1C247.1,117.0 257.1,122.2 259.7,125.6C262.2,128.9 262.9,131.2 259.7,132.3C256.4,133.4 245.2,132.8 240.2,132.3C235.2,131.7 232.5,131.9 229.8,128.9C227.1,125.9 223.6,119.4 224.0,114.4Z" fill="#ff7018" opacity="0.3"/>
<ellipse cx="135.8" cy="130.0" rx="3.2" ry="5.6" fill="#ff7a18" opacity="0.6"/>
<path d="M235.7,144.6C236.5,142.0 239.4,140.7 241.5,139.0C243.5,137.3 245.8,135.3 248.0,134.5C250.1,133.8 252.8,133.2 254.5,134.5C256.1,135.8 256.6,139.9 257.7,142.4C258.8,144.8 260.4,146.5 260.9,149.1C261.5,151.7 261.5,155.6 260.9,158.0C260.4,160.5 259.2,163.1 257.7,163.6C256.2,164.2 253.9,162.5 251.9,161.4C249.8,160.3 247.5,157.1 245.4,156.9C243.2,156.7 240.4,160.7 238.9,160.3C237.4,159.9 236.9,157.3 236.3,154.7C235.8,152.1 234.8,147.2 235.7,144.6Z" fill="#ff7812" opacity="0.7"/>
<ellipse cx="159.8" cy="76.8" rx="3.2" ry="3.9" fill="#ff7a18" opacity="0.6"/>
<ellipse cx="184.4" cy="77.9" rx="5.2" ry="3.4" fill="#ff7a18" opacity="0.6"/>
</g>
<rect x="45.7" y="87.5" width="233.4" height="84.0" filter="url(#speck)" opacity="0.38"/>
<g filter="url(#rough)">
<path d="M151.7,97.5C151.7,96.3 151.6,95.3 152.0,94.2C152.4,93.1 153.3,91.7 154.0,90.8C154.6,90.0 155.2,89.8 155.9,89.1C156.7,88.5 157.6,87.7 158.5,86.9C159.4,86.2 160.1,85.2 161.1,84.7C162.1,84.1 163.3,83.7 164.3,83.5C165.4,83.4 166.8,83.3 167.6,83.5C168.3,83.8 168.5,84.9 168.9,85.2C169.3,85.5 169.6,85.0 170.2,85.2C170.7,85.4 171.4,85.9 172.1,86.3C172.9,86.8 174.1,87.7 174.7,87.7C175.4,87.7 175.4,86.5 176.0,86.3C176.7,86.2 177.7,86.7 178.6,86.9C179.5,87.1 180.4,87.3 181.2,87.5C182.0,87.7 182.7,87.5 183.1,88.0C183.6,88.6 183.8,89.8 184.1,90.8C184.4,91.9 184.8,93.2 185.1,94.2C185.4,95.2 185.9,96.1 186.1,97.0C186.3,97.9 186.3,99.0 186.3,99.8C186.2,100.5 186.2,100.9 185.7,101.5C185.3,102.0 184.7,102.7 183.8,103.2C182.9,103.6 181.7,104.0 180.6,104.3C179.4,104.5 178.0,104.5 176.7,104.5C175.4,104.5 174.1,104.4 172.8,104.3C171.5,104.1 170.2,104.0 168.9,103.7C167.6,103.5 166.3,103.0 165.0,102.8C163.7,102.6 162.4,102.7 161.1,102.6C159.8,102.5 158.4,102.3 157.2,102.3C156.0,102.2 154.9,102.2 154.0,102.0C153.1,101.9 152.2,102.2 151.8,101.5C151.5,100.7 151.7,98.8 151.7,97.5Z" fill="#ff8a08" stroke="#ff8a08" stroke-width="7.0" stroke-linejoin="round"/>
<path d="M151.7,97.5C151.7,96.3 151.6,95.3 152.0,94.2C152.4,93.1 153.3,91.7 154.0,90.8C154.6,90.0 155.2,89.8 155.9,89.1C156.7,88.5 157.6,87.7 158.5,86.9C159.4,86.2 160.1,85.2 161.1,84.7C162.1,84.1 163.3,83.7 164.3,83.5C165.4,83.4 166.8,83.3 167.6,83.5C168.3,83.8 168.5,84.9 168.9,85.2C169.3,85.5 169.6,85.0 170.2,85.2C170.7,85.4 171.4,85.9 172.1,86.3C172.9,86.8 174.1,87.7 174.7,87.7C175.4,87.7 175.4,86.5 176.0,86.3C176.7,86.2 177.7,86.7 178.6,86.9C179.5,87.1 180.4,87.3 181.2,87.5C182.0,87.7 182.7,87.5 183.1,88.0C183.6,88.6 183.8,89.8 184.1,90.8C184.4,91.9 184.8,93.2 185.1,94.2C185.4,95.2 185.9,96.1 186.1,97.0C186.3,97.9 186.3,99.0 186.3,99.8C186.2,100.5 186.2,100.9 185.7,101.5C185.3,102.0 184.7,102.7 183.8,103.2C182.9,103.6 181.7,104.0 180.6,104.3C179.4,104.5 178.0,104.5 176.7,104.5C175.4,104.5 174.1,104.4 172.8,104.3C171.5,104.1 170.2,104.0 168.9,103.7C167.6,103.5 166.3,103.0 165.0,102.8C163.7,102.6 162.4,102.7 161.1,102.6C159.8,102.5 158.4,102.3 157.2,102.3C156.0,102.2 154.9,102.2 154.0,102.0C153.1,101.9 152.2,102.2 151.8,101.5C151.5,100.7 151.7,98.8 151.7,97.5Z" fill="#ffe610" stroke="#ffe610" stroke-width="4.8" stroke-linejoin="round"/>
<path d="M151.7,97.5C151.7,96.3 151.6,95.3 152.0,94.2C152.4,93.1 153.3,91.7 154.0,90.8C154.6,90.0 155.2,89.8 155.9,89.1C156.7,88.5 157.6,87.7 158.5,86.9C159.4,86.2 160.1,85.2 161.1,84.7C162.1,84.1 163.3,83.7 164.3,83.5C165.4,83.4 166.8,83.3 167.6,83.5C168.3,83.8 168.5,84.9 168.9,85.2C169.3,85.5 169.6,85.0 170.2,85.2C170.7,85.4 171.4,85.9 172.1,86.3C172.9,86.8 174.1,87.7 174.7,87.7C175.4,87.7 175.4,86.5 176.0,86.3C176.7,86.2 177.7,86.7 178.6,86.9C179.5,87.1 180.4,87.3 181.2,87.5C182.0,87.7 182.7,87.5 183.1,88.0C183.6,88.6 183.8,89.8 184.1,90.8C184.4,91.9 184.8,93.2 185.1,94.2C185.4,95.2 185.9,96.1 186.1,97.0C186.3,97.9 186.3,99.0 186.3,99.8C186.2,100.5 186.2,100.9 185.7,101.5C185.3,102.0 184.7,102.7 183.8,103.2C182.9,103.6 181.7,104.0 180.6,104.3C179.4,104.5 178.0,104.5 176.7,104.5C175.4,104.5 174.1,104.4 172.8,104.3C171.5,104.1 170.2,104.0 168.9,103.7C167.6,103.5 166.3,103.0 165.0,102.8C163.7,102.6 162.4,102.7 161.1,102.6C159.8,102.5 158.4,102.3 157.2,102.3C156.0,102.2 154.9,102.2 154.0,102.0C153.1,101.9 152.2,102.2 151.8,101.5C151.5,100.7 151.7,98.8 151.7,97.5Z" fill="#38e8c8" stroke="#38e8c8" stroke-width="2.7" stroke-linejoin="round"/>
<path d="M151.7,97.5C151.7,96.3 151.6,95.3 152.0,94.2C152.4,93.1 153.3,91.7 154.0,90.8C154.6,90.0 155.2,89.8 155.9,89.1C156.7,88.5 157.6,87.7 158.5,86.9C159.4,86.2 160.1,85.2 161.1,84.7C162.1,84.1 163.3,83.7 164.3,83.5C165.4,83.4 166.8,83.3 167.6,83.5C168.3,83.8 168.5,84.9 168.9,85.2C169.3,85.5 169.6,85.0 170.2,85.2C170.7,85.4 171.4,85.9 172.1,86.3C172.9,86.8 174.1,87.7 174.7,87.7C175.4,87.7 175.4,86.5 176.0,86.3C176.7,86.2 177.7,86.7 178.6,86.9C179.5,87.1 180.4,87.3 181.2,87.5C182.0,87.7 182.7,87.5 183.1,88.0C183.6,88.6 183.8,89.8 184.1,90.8C184.4,91.9 184.8,93.2 185.1,94.2C185.4,95.2 185.9,96.1 186.1,97.0C186.3,97.9 186.3,99.0 186.3,99.8C186.2,100.5 186.2,100.9 185.7,101.5C185.3,102.0 184.7,102.7 183.8,103.2C182.9,103.6 181.7,104.0 180.6,104.3C179.4,104.5 178.0,104.5 176.7,104.5C175.4,104.5 174.1,104.4 172.8,104.3C171.5,104.1 170.2,104.0 168.9,103.7C167.6,103.5 166.3,103.0 165.0,102.8C163.7,102.6 162.4,102.7 161.1,102.6C159.8,102.5 158.4,102.3 157.2,102.3C156.0,102.2 154.9,102.2 154.0,102.0C153.1,101.9 152.2,102.2 151.8,101.5C151.5,100.7 151.7,98.8 151.7,97.5Z" fill="#0a20ae"/>
<path d="M185.7,88.6C185.8,87.4 186.4,85.4 187.0,84.7C187.7,83.9 188.8,83.8 189.6,84.1C190.5,84.4 191.6,85.7 192.2,86.3C192.9,87.0 193.1,87.2 193.5,88.0C194.0,88.9 194.4,90.5 194.8,91.4C195.2,92.3 195.2,93.2 195.8,93.6C196.3,94.1 197.5,93.8 198.1,94.2C198.7,94.6 198.9,95.4 199.4,95.9C199.8,96.3 200.6,96.3 200.7,97.0C200.7,97.6 200.1,99.0 199.7,99.8C199.2,100.5 198.7,101.0 198.1,101.5C197.5,101.9 196.9,102.0 196.1,102.6C195.4,103.2 194.3,104.3 193.5,104.8C192.8,105.4 192.1,106.0 191.6,106.0C191.1,106.0 190.9,105.6 190.6,104.8C190.3,104.1 190.3,102.5 190.0,101.5C189.6,100.4 189.0,99.7 188.7,98.7C188.3,97.6 188.1,96.4 187.7,95.3C187.3,94.2 186.7,93.1 186.4,91.9C186.1,90.8 185.6,89.8 185.7,88.6Z" fill="#d8ec20"/>
<path d="M186.7,89.1C186.8,88.3 187.6,86.6 188.3,86.3C189.0,86.1 190.2,86.9 190.9,87.5C191.7,88.0 192.3,88.8 192.9,89.7C193.5,90.6 194.0,92.2 194.5,93.1C195.0,93.9 195.4,94.3 196.1,94.7C196.8,95.2 198.3,95.1 198.7,95.9C199.1,96.6 199.1,98.3 198.7,99.2C198.3,100.2 197.0,100.9 196.1,101.5C195.2,102.0 194.0,102.6 193.2,102.6C192.4,102.6 191.7,102.2 191.3,101.5C190.8,100.7 190.7,99.3 190.3,98.1C189.9,96.9 189.4,95.3 189.0,94.2C188.5,93.1 188.1,92.2 187.7,91.4C187.3,90.5 186.6,90.0 186.7,89.1Z" fill="#40e0d0"/>
<path d="M191.6,96.1C191.9,95.4 192.8,94.8 193.5,94.6C194.3,94.5 195.3,94.7 196.1,95.1C196.9,95.4 198.1,95.9 198.4,96.7C198.7,97.4 198.5,98.8 198.1,99.5C197.6,100.1 196.3,100.4 195.5,100.7C194.6,100.9 193.5,101.2 192.9,100.9C192.2,100.6 191.8,99.7 191.6,98.9C191.4,98.1 191.3,96.8 191.6,96.1Z" fill="#1030c8"/>
<path d="M187.4,88.3C187.6,87.7 189.0,87.4 189.6,87.7C190.3,88.0 191.1,89.2 191.3,89.9C191.4,90.6 190.8,91.7 190.3,91.9C189.8,92.2 188.8,91.9 188.3,91.3C187.8,90.7 187.1,88.8 187.4,88.3Z" fill="#1848d8"/>
<path d="M195.5,81.9C196.0,80.7 197.5,79.8 198.7,79.6C199.9,79.4 201.5,79.8 202.6,80.7C203.7,81.7 204.3,84.1 205.2,85.2C206.1,86.3 207.1,86.5 207.8,87.5C208.4,88.4 209.1,89.8 209.1,90.8C209.1,91.9 208.6,93.3 207.8,93.6C206.9,93.9 205.2,92.8 203.9,92.5C202.6,92.2 201.1,92.3 200.0,91.9C198.9,91.6 198.2,91.2 197.4,90.3C196.7,89.3 195.8,87.7 195.5,86.3C195.1,84.9 194.9,83.0 195.5,81.9Z" fill="#ffd818"/>
<ellipse cx="200.0" cy="85.8" rx="1.7" ry="2.9" fill="#50e8c0"/>
<ellipse cx="203.6" cy="87.1" rx="1.7" ry="2.0" fill="#38d8e0"/>
<ellipse cx="208.4" cy="90.5" rx="1.2" ry="2.0" fill="#a0f060"/>
<ellipse cx="197.7" cy="82.6" rx="1.6" ry="1.3" fill="#90f070"/>
<path d="M196.8,79.4C196.5,78.5 197.5,76.7 198.1,75.5C198.6,74.3 199.1,72.8 200.0,72.1C200.9,71.5 202.3,71.2 203.2,71.6C204.2,71.9 205.4,73.2 205.8,74.4C206.3,75.5 206.3,77.2 205.8,78.3C205.4,79.4 204.3,80.6 203.2,81.1C202.2,81.5 200.4,81.4 199.4,81.1C198.3,80.8 197.0,80.3 196.8,79.4Z" fill="#ffc81c" opacity="0.7"/>
<path d="M197.7,78.8C197.7,78.1 198.5,76.4 199.0,75.5C199.5,74.5 199.9,73.6 200.7,73.2C201.4,72.9 202.5,72.9 203.2,73.2C203.9,73.6 204.6,74.6 204.9,75.5C205.1,76.3 205.0,77.5 204.5,78.3C204.1,79.0 202.8,79.7 201.9,80.0C201.1,80.2 200.1,80.1 199.4,80.0C198.7,79.8 197.8,79.6 197.7,78.8Z" fill="#30d8e8"/>
<ellipse cx="201.0" cy="77.2" rx="1.8" ry="1.7" fill="#1040d8"/>
<ellipse cx="203.2" cy="74.8" rx="1.2" ry="1.2" fill="#1858e0"/>
<path d="M210.4,78.5C210.4,77.4 211.2,75.0 212.3,74.0C213.4,73.1 215.7,73.6 216.9,72.9C218.0,72.2 218.2,70.7 219.5,70.1C220.8,69.5 222.9,69.5 224.6,69.5C226.4,69.5 228.1,69.8 229.8,70.1C231.6,70.4 234.0,70.4 235.0,71.2C236.0,72.1 236.1,73.8 235.7,75.1C235.2,76.5 233.8,78.2 232.4,79.1C231.0,79.9 229.0,80.0 227.2,80.2C225.5,80.4 223.8,80.0 222.0,80.2C220.3,80.4 218.5,81.2 216.9,81.3C215.2,81.4 213.4,81.2 212.3,80.7C211.2,80.3 210.4,79.6 210.4,78.5Z" fill="#ffa41a" opacity="0.42"/>
<path d="M212.0,77.9C211.9,77.2 212.7,75.7 213.6,75.1C214.5,74.6 216.3,74.5 217.5,74.6C218.7,74.7 220.2,75.1 220.8,75.7C221.3,76.3 221.2,77.3 220.8,77.9C220.3,78.6 219.2,79.3 218.2,79.6C217.1,79.9 215.3,80.1 214.3,79.8C213.2,79.6 212.1,78.7 212.0,77.9Z" fill="#28d0f0"/>
<path d="M213.0,77.7C213.0,77.2 214.1,76.2 214.9,75.8C215.8,75.5 217.3,75.6 218.2,75.7C219.0,75.9 219.8,76.2 219.8,76.7C219.8,77.2 219.0,78.1 218.2,78.5C217.3,78.9 215.8,79.0 214.9,78.8C214.1,78.7 213.0,78.2 213.0,77.7Z" fill="#0a30c8"/>
<path d="M222.0,75.1C222.3,74.3 223.1,72.4 224.0,71.8C224.9,71.1 226.0,71.2 227.2,71.2C228.4,71.2 230.0,71.4 231.1,71.8C232.2,72.2 233.5,72.6 233.7,73.5C233.9,74.3 233.2,76.0 232.4,76.8C231.7,77.7 230.4,78.3 229.2,78.5C228.0,78.7 226.4,78.2 225.3,77.9C224.2,77.7 223.2,77.3 222.7,76.8C222.2,76.4 221.8,76.0 222.0,75.1Z" fill="#30d8e0"/>
<path d="M226.3,76.3C226.2,75.7 226.6,74.5 227.2,74.0C227.8,73.6 229.2,73.5 229.8,73.7C230.5,73.9 231.1,74.8 231.1,75.4C231.1,75.9 230.4,76.8 229.8,77.2C229.2,77.5 228.2,77.5 227.6,77.4C227.0,77.2 226.3,76.8 226.3,76.3Z" fill="#0c38d0"/>
<ellipse cx="223.3" cy="75.5" rx="1.2" ry="1.1" fill="#1858e0"/>
<ellipse cx="220.8" cy="71.2" rx="1.4" ry="1.1" fill="#60e8b0"/>
<path d="M236.3,145.7C237.0,144.7 238.7,143.8 240.2,142.9C241.7,142.0 243.8,140.9 245.4,140.5C247.0,140.0 248.6,140.1 249.9,140.5C251.2,140.8 252.2,141.5 253.2,142.4C254.1,143.2 255.1,144.2 255.8,145.7C256.4,147.2 256.8,149.5 257.1,151.3C257.3,153.2 257.5,155.4 257.1,156.9C256.6,158.4 255.3,159.9 254.5,160.3C253.6,160.7 252.6,159.5 251.9,159.2C251.1,158.8 250.8,158.5 249.9,158.0C249.1,157.6 247.8,156.5 246.7,156.4C245.6,156.3 244.5,157.2 243.4,157.5C242.4,157.8 241.2,158.1 240.2,158.0C239.2,158.0 238.2,157.9 237.6,156.9C237.0,156.0 236.9,153.7 236.6,152.4C236.4,151.1 236.2,150.2 236.2,149.1C236.1,148.0 235.6,146.7 236.3,145.7Z" fill="#f4e418"/>
<path d="M236.0,146.8C236.8,145.5 239.3,144.4 240.8,143.5C242.4,142.5 243.9,141.5 245.4,141.2C246.9,141.0 248.6,141.3 249.9,141.8C251.2,142.3 252.3,143.0 253.2,144.0C254.0,145.1 254.7,146.6 255.1,148.0C255.5,149.4 255.8,150.9 255.8,152.4C255.8,153.9 255.7,156.0 255.1,156.9C254.6,157.9 253.4,158.0 252.5,158.0C251.7,158.1 250.9,157.7 249.9,157.5C249.0,157.2 247.9,156.4 246.7,156.5C245.5,156.6 244.1,157.8 242.8,158.0C241.5,158.3 239.9,158.4 238.9,158.0C237.9,157.7 237.4,156.9 237.0,155.8C236.5,154.7 236.2,152.8 236.1,151.3C235.9,149.8 235.2,148.1 236.0,146.8Z" fill="#98ee68"/>
<path d="M235.8,146.8C236.6,145.7 239.2,144.6 240.8,143.8C242.4,143.0 244.0,142.3 245.4,142.1C246.8,141.9 248.2,142.2 249.3,142.6C250.4,143.0 251.2,143.7 251.9,144.6C252.5,145.5 252.8,146.7 253.0,148.0C253.3,149.3 253.5,151.1 253.5,152.4C253.5,153.7 253.3,155.2 252.8,155.8C252.4,156.5 251.3,156.3 250.6,156.4C249.9,156.5 249.5,156.4 248.6,156.4C247.8,156.3 246.5,155.9 245.4,156.1C244.3,156.4 243.2,157.6 242.1,157.8C241.1,158.0 239.8,157.8 238.9,157.3C238.0,156.7 237.3,155.8 236.8,154.7C236.3,153.6 236.1,152.1 235.9,150.8C235.7,149.5 235.0,148.0 235.8,146.8Z" fill="#38dcd8"/>
<path d="M240.5,144.8C241.1,143.9 243.8,143.3 244.7,143.8C245.7,144.3 246.5,146.7 246.4,148.0C246.3,149.3 244.9,151.4 244.1,151.7C243.3,151.9 242.1,150.8 241.5,149.6C240.9,148.5 240.0,145.8 240.5,144.8Z" fill="#1244d4"/>
<path d="M249.3,147.7C249.8,146.8 251.8,147.0 252.5,147.7C253.3,148.5 253.8,151.1 253.7,152.4C253.6,153.7 252.6,155.4 251.9,155.6C251.2,155.8 250.0,154.9 249.6,153.6C249.2,152.3 248.8,148.7 249.3,147.7Z" fill="#1040d0"/>
<path d="M242.8,152.4C243.4,151.9 246.5,151.8 247.3,152.2C248.2,152.7 248.6,154.6 248.0,155.1C247.3,155.7 244.3,155.8 243.4,155.4C242.6,154.9 242.1,153.0 242.8,152.4Z" fill="#1a58dc"/>
<ellipse cx="247.3" cy="145.7" rx="1.0" ry="1.8" fill="#90f060"/>
<path d="M170.1,139.6C170.2,138.9 171.2,139.1 171.8,140.1C172.4,141.1 172.9,143.9 173.4,145.7C173.9,147.6 174.3,149.7 174.7,151.3C175.1,152.9 175.8,154.3 175.7,155.2C175.6,156.2 174.6,157.3 174.1,156.9C173.6,156.6 173.2,154.5 172.8,153.0C172.4,151.5 172.0,149.5 171.7,148.0C171.3,146.5 171.0,145.4 170.7,144.0C170.4,142.6 169.9,140.2 170.1,139.6Z" fill="#e8f028"/>
<path d="M170.4,141.8C170.5,141.5 171.1,141.4 171.5,142.4C171.9,143.3 172.4,145.7 172.8,147.4C173.2,149.1 173.7,151.5 173.7,152.4C173.8,153.4 173.4,153.7 173.1,153.0C172.8,152.3 172.2,149.4 171.9,148.0C171.5,146.5 171.1,145.4 170.9,144.4C170.6,143.3 170.3,142.1 170.4,141.8Z" fill="#40e0c8"/>
<path d="M174.4,144.6C174.9,143.8 176.9,143.5 177.6,144.0C178.3,144.6 178.6,146.7 178.6,148.0C178.6,149.3 178.2,151.1 177.6,151.9C177.1,152.6 175.9,152.9 175.4,152.4C174.8,152.0 174.6,150.4 174.4,149.1C174.2,147.8 173.9,145.4 174.4,144.6Z" fill="#ffd020"/>
<path d="M190.3,108.2C190.8,107.6 194.7,107.1 195.5,107.6C196.3,108.2 195.4,110.2 195.1,111.6C194.9,112.9 194.3,114.4 193.8,115.5C193.4,116.5 192.5,118.1 192.2,117.9C191.9,117.8 191.9,115.5 191.9,114.4C191.9,113.2 192.5,112.0 192.2,111.0C192.0,110.0 189.7,108.8 190.3,108.2Z" fill="#ffc81c"/>
<path d="M116.5,140.7C116.7,138.5 117.3,139.7 117.7,140.7C118.0,141.7 118.5,145.0 118.6,146.8C118.7,148.7 118.6,150.6 118.3,151.9C118.0,153.2 117.4,154.4 117.0,154.7C116.7,155.0 116.3,155.9 116.2,153.6C116.1,151.2 116.2,142.8 116.5,140.7Z" fill="#c8f040"/>
<ellipse cx="118.0" cy="148.0" rx="0.8" ry="2.5" fill="#50e0c0"/>
<ellipse cx="118.3" cy="167.0" rx="1.4" ry="4.5" fill="#ffc020" opacity="0.8"/>
<ellipse cx="88.5" cy="85.8" rx="1.2" ry="2.2" fill="#ffd030" opacity="0.8"/>
<ellipse cx="93.7" cy="88.0" rx="1.2" ry="2.5" fill="#ffb020" opacity="0.6"/>
<ellipse cx="87.2" cy="77.9" rx="1.6" ry="2.2" fill="#ffa020" opacity="0.5"/>
<ellipse cx="91.7" cy="79.6" rx="1.3" ry="1.8" fill="#ffa020" opacity="0.45"/>
<ellipse cx="89.1" cy="90.8" rx="0.7" ry="1.8" fill="#e0f040" opacity="0.9"/>
<ellipse cx="189.0" cy="83.0" rx="2.3" ry="1.8" fill="#ffe020"/>
<ellipse cx="163.7" cy="82.3" rx="3.9" ry="1.1" fill="#ffd020" opacity="0.8"/>
<ellipse cx="166.0" cy="94.2" rx="1.7" ry="2.5" fill="#2a8cf0"/>
<ellipse cx="174.1" cy="97.5" rx="1.6" ry="2.0" fill="#2a8cf0"/>
<ellipse cx="167.9" cy="100.3" rx="1.0" ry="1.8" fill="#30a8f0"/>
<ellipse cx="168.2" cy="90.3" rx="1.8" ry="1.3" fill="#38c8e8"/>
<ellipse cx="158.5" cy="94.2" rx="1.9" ry="1.8" fill="#1846dc"/>
<ellipse cx="178.6" cy="96.4" rx="1.9" ry="3.4" fill="#061a9c"/>
<ellipse cx="170.2" cy="91.9" rx="1.9" ry="2.2" fill="#06189a"/>
<ellipse cx="161.1" cy="98.7" rx="2.6" ry="2.2" fill="#06189a"/>
<ellipse cx="155.3" cy="97.0" rx="1.6" ry="2.2" fill="#2070e8"/>
<ellipse cx="182.5" cy="87.1" rx="0.9" ry="1.6" fill="#ff5010"/>
</g></g></g>
<rect x="45.7" y="20.25" width="233.40000000000003" height="201.65" fill="none" stroke="#333" stroke-width="0.7"/>
<path d="M65.15,221.9v-2.2M65.15,20.25v2.2M97.57,221.9v-2.2M97.57,20.25v2.2M129.98,221.9v-2.2M129.98,20.25v2.2M162.40,221.9v-2.2M162.40,20.25v2.2M194.82,221.9v-2.2M194.82,20.25v2.2M227.23,221.9v-2.2M227.23,20.25v2.2M259.65,221.9v-2.2M259.65,20.25v2.2M45.7,210.70h2.2M279.1,210.70h-2.2M45.7,188.29h2.2M279.1,188.29h-2.2M45.7,165.89h2.2M279.1,165.89h-2.2M45.7,143.48h2.2M279.1,143.48h-2.2M45.7,121.08h2.2M279.1,121.08h-2.2M45.7,98.67h2.2M279.1,98.67h-2.2M45.7,76.26h2.2M279.1,76.26h-2.2M45.7,53.86h2.2M279.1,53.86h-2.2M45.7,31.45h2.2M279.1,31.45h-2.2" stroke="#333" stroke-width="0.6" fill="none"/>
<text class="t" x="42.1" y="213.6" text-anchor="end">-80</text>
<text class="t" x="42.1" y="191.2" text-anchor="end">-60</text>
<text class="t" x="42.1" y="168.8" text-anchor="end">-40</text>
<text class="t" x="42.1" y="146.4" text-anchor="end">-20</text>
<text class="t" x="42.1" y="124.0" text-anchor="end">0</text>
<text class="t" x="42.1" y="101.6" text-anchor="end">20</text>
<text class="t" x="42.1" y="79.2" text-anchor="end">40</text>
<text class="t" x="42.1" y="56.8" text-anchor="end">60</text>
<text class="t" x="42.1" y="34.4" text-anchor="end">80</text>
<text class="t" x="65.2" y="233.7" text-anchor="middle">-150</text>
<text class="t" x="97.6" y="233.7" text-anchor="middle">-100</text>
<text class="t" x="130.0" y="233.7" text-anchor="middle">-50</text>
<text class="t" x="162.4" y="233.7" text-anchor="middle">0</text>
<text class="t" x="194.8" y="233.7" text-anchor="middle">50</text>
<text class="t" x="227.2" y="233.7" text-anchor="middle">100</text>
<text class="t" x="259.7" y="233.7" text-anchor="middle">150</text>
<text class="l" x="162.6" y="243.8" style="font-size:10.85px" text-anchor="middle">Longitude °E</text>
<text class="l" transform="translate(23,120) rotate(-90)" text-anchor="middle">Latitude °N</text>
<text class="h" y="14.8"><tspan x="75.0">200701</tspan><tspan x="117.3">8.6</tspan><tspan x="132.4" font-style="italic" font-weight="normal" font-family='"Liberation Serif", serif' font-size="11.5px">μ</tspan><tspan x="138.5">m</tspan><tspan x="153.8">CAMEL Emissivity</tspan></text>
<rect x="284" y="20.25" width="11.8" height="201.65" fill="url(#jet)" stroke="#444" stroke-width="0.45"/>
<text class="t" style="font-size:9.3px" x="299.3" y="23.2">1</text>
<text class="t" style="font-size:9.3px" x="299.3" y="43.4">0.98</text>
<text class="t" style="font-size:9.3px" x="299.3" y="63.6">0.96</text>
<text class="t" style="font-size:9.3px" x="299.3" y="83.7">0.94</text>
<text class="t" style="font-size:9.3px" x="299.3" y="103.9">0.92</text>
<text class="t" style="font-size:9.3px" x="299.3" y="124.1">0.9</text>
<text class="t" style="font-size:9.3px" x="299.3" y="144.2">0.88</text>
<text class="t" style="font-size:9.3px" x="299.3" y="164.4">0.86</text>
<text class="t" style="font-size:9.3px" x="299.3" y="184.6">0.84</text>
<text class="t" style="font-size:9.3px" x="299.3" y="204.7">0.82</text>
<text class="t" style="font-size:9.3px" x="299.3" y="224.9">0.8</text>
</g>
<path d="M284,40.41h1.3M295.8,40.41h-1.3M284,60.58h1.3M295.8,60.58h-1.3M284,80.75h1.3M295.8,80.75h-1.3M284,100.91h1.3M295.8,100.91h-1.3M284,121.07h1.3M295.8,121.07h-1.3M284,141.24h1.3M295.8,141.24h-1.3M284,161.41h1.3M295.8,161.41h-1.3M284,181.57h1.3M295.8,181.57h-1.3M284,201.73h1.3M295.8,201.73h-1.3" stroke="#333" stroke-width="0.45" fill="none"/>
<text class="c" x="171.1" y="259.6" text-anchor="middle">(<tspan font-weight="bold">a</tspan>)</text>
<g id="axes2">
<rect x="33.4" y="282.2" width="254.79999999999998" height="220.3" fill="#0080ff"/>
<g clip-path="url(#b2)"><use href="#land2" fill="#00ffff"/>
<g clip-path="url(#c2)"><rect x="33.4" y="282.2" width="254.8" height="40.6" fill="#ffff00"/>
<rect x="33.4" y="465.8" width="254.8" height="36.7" fill="#ff8000"/>
<path d="M153.9,480.7 157.3,479.9 162.1,479.4 167.9,478.9 174.2,478.5 182.0,478.0 185.6,477.4 189.1,477.2 192.6,476.2 196.2,475.3 199.7,474.4 201.9,475.6 204.7,475.9 208.2,476.2 208.9,478.0 211.4,480.7 213.2,478.6 215.3,477.4 218.1,475.2 223.1,474.4 229.1,473.9 235.1,474.1 238.7,473.9 242.7,474.5 249.3,474.4 256.2,475.0 261.3,475.0 264.1,475.6 267.0,477.2 271.2,478.3 276.5,480.5 279.0,481.1" fill="none" stroke="#80ff80" stroke-width="3" stroke-linejoin="round" stroke-linecap="round"/>
<path d="M182.0,478.0 185.6,477.4 189.1,477.2 192.6,476.2 196.2,475.3 199.7,474.4 201.9,475.6 204.7,475.9 208.2,476.2 208.9,478.0 211.4,480.7 213.2,478.6 215.3,477.4 218.1,475.2 223.1,474.4 229.1,473.9 235.1,474.1 238.7,473.9 242.7,474.5 249.3,474.4 256.2,475.0 261.3,475.0 264.1,475.6 267.0,477.2 271.2,478.3 276.5,480.5" fill="none" stroke="#80ff80" stroke-width="6.6" stroke-linejoin="round" stroke-linecap="round"/>
<path d="M114.1,474.1C114.8,472.7 116.9,469.2 118.3,468.2C119.7,467.3 122.2,467.4 122.6,468.2C122.9,469.0 121.4,471.6 120.5,473.1C119.5,474.7 118.0,476.8 116.9,477.4C115.9,478.0 114.6,477.3 114.1,476.8C113.6,476.2 113.4,475.5 114.1,474.1Z" fill="#80ff80"/>
<path d="M116.9,471.4C116.8,470.9 118.8,468.8 119.7,468.2C120.7,467.7 122.5,467.7 122.6,468.2C122.7,468.7 121.4,470.8 120.5,471.3C119.5,471.8 117.0,471.9 116.9,471.4Z" fill="#00ffff"/>
<g filter="url(#rough2)">
<path d="M104.2,394.8C104.4,393.4 105.4,391.3 106.3,391.1C107.2,390.9 108.5,392.6 109.8,393.6C111.1,394.6 112.7,396.2 114.1,397.2C115.5,398.3 117.2,398.5 118.3,399.7C119.5,400.9 120.2,403.0 121.2,404.6C122.1,406.2 123.2,407.9 124.0,409.5C124.8,411.1 126.1,413.0 126.1,414.4C126.1,415.8 124.9,417.8 124.0,418.1C123.1,418.3 121.6,416.6 120.5,415.6C119.3,414.6 118.1,413.0 116.9,411.9C115.7,410.9 114.6,410.3 113.4,409.5C112.2,408.7 110.9,408.1 109.8,407.0C108.8,406.0 107.8,404.6 107.0,403.4C106.2,402.1 105.4,401.1 104.9,399.7C104.4,398.3 103.9,396.2 104.2,394.8Z" fill="#ffff00" opacity="0.55"/>
<path d="M107.0,397.2C107.5,396.4 109.7,396.6 111.3,397.2C112.8,397.9 114.8,399.5 116.2,400.9C117.6,402.3 118.7,404.0 119.7,405.8C120.8,407.6 122.5,410.5 122.6,411.9C122.7,413.4 121.5,414.8 120.5,414.4C119.4,414.0 117.6,410.9 116.2,409.5C114.8,408.1 113.3,407.0 112.0,405.8C110.7,404.6 109.3,403.6 108.4,402.1C107.6,400.7 106.5,398.1 107.0,397.2Z" fill="#ffff00" opacity="0.9"/>
<path d="M169.3,398.5C169.6,397.0 170.7,395.2 172.1,394.8C173.5,394.4 176.1,395.6 177.8,396.0C179.4,396.4 180.6,396.4 182.0,397.2C183.4,398.1 185.1,399.7 186.3,400.9C187.5,402.1 188.9,403.2 189.1,404.6C189.3,406.0 188.5,408.3 187.7,409.5C186.9,410.7 185.5,411.7 184.2,411.9C182.9,412.1 181.2,411.3 179.9,410.7C178.6,410.1 177.7,408.9 176.4,408.3C175.1,407.6 173.2,407.9 172.1,407.0C171.1,406.2 170.5,404.8 170.0,403.4C169.5,401.9 168.9,399.9 169.3,398.5Z" fill="#ffff00" opacity="0.5"/>
<path d="M171.4,399.7C171.9,398.5 174.8,398.3 176.4,398.5C177.9,398.7 179.4,399.9 180.6,400.9C181.8,401.9 183.2,403.4 183.4,404.6C183.7,405.8 183.0,407.9 182.0,408.3C181.1,408.7 179.2,407.4 177.8,407.0C176.4,406.6 174.6,407.0 173.5,405.8C172.5,404.6 170.9,400.9 171.4,399.7Z" fill="#ffff00" opacity="0.9"/>
<path d="M195.5,409.5C195.7,409.5 196.5,410.3 196.4,411.9C196.3,413.6 195.5,417.6 195.1,419.3C194.8,420.9 194.4,422.1 194.3,421.7C194.1,421.3 194.2,418.5 194.3,416.8C194.4,415.2 194.8,413.2 195.0,411.9C195.2,410.7 195.2,409.5 195.5,409.5Z" fill="#ffff00" opacity="0.9"/>
<path d="M238.7,390.5C239.2,389.8 240.7,388.8 241.5,388.1C242.3,387.4 243.1,385.9 243.6,386.2C244.1,386.5 244.3,388.7 244.3,389.9C244.3,391.1 244.0,392.5 243.6,393.6C243.3,394.7 242.9,396.3 242.2,396.6C241.5,396.9 240.0,396.1 239.4,395.4C238.7,394.7 238.4,393.2 238.3,392.4C238.2,391.5 238.1,391.2 238.7,390.5Z" fill="#ffff00"/>
<ellipse cx="241.5" cy="391.7" rx="1.3" ry="2.2" fill="#ff8000"/>
<path d="M230.9,391.1C231.0,390.8 232.0,391.5 232.6,392.4C233.3,393.2 234.3,394.9 234.8,396.0C235.2,397.1 235.6,398.8 235.5,399.1C235.3,399.4 234.3,398.7 233.7,397.9C233.1,397.0 232.4,395.3 231.9,394.2C231.5,393.1 230.8,391.4 230.9,391.1Z" fill="#ffff00"/>
<path d="M254.2,393.6C254.6,393.5 256.1,395.6 257.1,396.0C258.0,396.4 258.9,395.6 259.9,396.0C260.8,396.4 261.9,397.7 262.7,398.5C263.5,399.3 264.7,400.3 264.8,400.9C265.0,401.5 264.3,402.0 263.4,402.1C262.6,402.2 260.8,402.1 259.9,401.5C258.9,400.9 258.6,399.3 257.8,398.5C256.9,397.7 255.5,397.4 254.9,396.6C254.3,395.8 253.9,393.7 254.2,393.6Z" fill="#ffff00"/>
<ellipse cx="258.8" cy="397.6" rx="1.8" ry="1.5" fill="#ff8000"/>
<ellipse cx="263.1" cy="399.7" rx="1.1" ry="1.2" fill="#ff8000"/>
<ellipse cx="246.4" cy="394.2" rx="1.1" ry="3.1" fill="#ffff00" opacity="0.8"/>
<ellipse cx="254.9" cy="407.6" rx="1.6" ry="1.2" fill="#ffff00" opacity="0.8"/>
<ellipse cx="262.0" cy="408.3" rx="0.7" ry="2.4" fill="#ffff00" opacity="0.8"/>
<ellipse cx="194.4" cy="384.4" rx="0.6" ry="2.0" fill="#ffff00" opacity="0.9"/>
<ellipse cx="164.3" cy="353.2" rx="3.5" ry="1.7" fill="#ffff00" opacity="0.75"/>
<ellipse cx="162.2" cy="354.4" rx="1.4" ry="1.5" fill="#ffff00" opacity="0.8"/>
<ellipse cx="177.1" cy="357.7" rx="2.1" ry="1.6" fill="#ffff00" opacity="0.6"/>
<ellipse cx="193.7" cy="358.7" rx="1.4" ry="2.4" fill="#ffff00" opacity="0.6"/>
<ellipse cx="192.6" cy="354.4" rx="0.8" ry="1.5" fill="#ffff00" opacity="0.5"/>
</g>
<rect x="224.9" y="351.1" width="0.9" height="0.9" fill="#ffff00" opacity="0.85"/>
<rect x="228.0" y="348.9" width="0.9" height="0.9" fill="#ffff00" opacity="0.85"/>
<rect x="227.0" y="349.1" width="0.9" height="0.9" fill="#ffff00" opacity="0.85"/>
<rect x="214.4" y="354.2" width="0.9" height="0.9" fill="#ffff00" opacity="0.85"/>
<rect x="230.6" y="352.2" width="0.9" height="0.9" fill="#ffff00" opacity="0.85"/>
<rect x="229.8" y="358.1" width="0.9" height="0.9" fill="#ffff00" opacity="0.85"/>
<rect x="222.2" y="356.6" width="0.9" height="0.9" fill="#ffff00" opacity="0.85"/>
<rect x="223.5" y="353.0" width="0.9" height="0.9" fill="#ffff00" opacity="0.85"/>
<rect x="214.1" y="356.9" width="0.9" height="0.9" fill="#ffff00" opacity="0.85"/>
<rect x="218.8" y="349.2" width="0.9" height="0.9" fill="#ffff00" opacity="0.85"/>
<rect x="227.4" y="357.5" width="0.9" height="0.9" fill="#ffff00" opacity="0.85"/>
<rect x="228.0" y="357.8" width="0.9" height="0.9" fill="#ffff00" opacity="0.85"/>
<rect x="224.8" y="357.9" width="0.9" height="0.9" fill="#ffff00" opacity="0.85"/>
<rect x="213.9" y="349.7" width="0.9" height="0.9" fill="#ffff00" opacity="0.85"/>
<rect x="217.6" y="356.9" width="0.9" height="0.9" fill="#ffff00" opacity="0.85"/>
<rect x="231.3" y="349.7" width="0.9" height="0.9" fill="#ffff00" opacity="0.85"/>
<rect x="235.7" y="341.8" width="0.9" height="0.9" fill="#ffff00" opacity="0.85"/>
<rect x="239.2" y="348.0" width="0.9" height="0.9" fill="#ffff00" opacity="0.85"/>
<rect x="234.5" y="342.2" width="0.9" height="0.9" fill="#ffff00" opacity="0.85"/>
<rect x="241.4" y="341.7" width="0.9" height="0.9" fill="#ffff00" opacity="0.85"/>
<rect x="244.2" y="356.4" width="0.9" height="0.9" fill="#ffff00" opacity="0.85"/>
<rect x="236.7" y="359.3" width="0.9" height="0.9" fill="#ffff00" opacity="0.85"/>
<rect x="233.6" y="361.5" width="0.9" height="0.9" fill="#ffff00" opacity="0.85"/>
<rect x="235.8" y="349.7" width="0.9" height="0.9" fill="#ffff00" opacity="0.85"/>
<rect x="231.6" y="348.0" width="0.9" height="0.9" fill="#ffff00" opacity="0.85"/>
<rect x="236.4" y="356.1" width="0.9" height="0.9" fill="#ffff00" opacity="0.85"/>
<rect x="243.2" y="352.4" width="0.9" height="0.9" fill="#ffff00" opacity="0.85"/>
<rect x="236.0" y="352.4" width="0.9" height="0.9" fill="#ffff00" opacity="0.85"/>
<rect x="241.6" y="361.7" width="0.9" height="0.9" fill="#ffff00" opacity="0.85"/>
<rect x="245.4" y="362.5" width="0.9" height="0.9" fill="#ffff00" opacity="0.85"/>
<rect x="259.7" y="344.5" width="0.9" height="0.9" fill="#ffff00" opacity="0.85"/>
<rect x="257.1" y="345.0" width="0.9" height="0.9" fill="#ffff00" opacity="0.85"/>
<rect x="258.4" y="346.5" width="0.9" height="0.9" fill="#ffff00" opacity="0.85"/>
<rect x="257.1" y="350.4" width="0.9" height="0.9" fill="#ffff00" opacity="0.85"/>
<rect x="257.7" y="343.7" width="0.9" height="0.9" fill="#ffff00" opacity="0.85"/>
<rect x="96.8" y="372.7" width="0.9" height="0.9" fill="#ffff00" opacity="0.85"/>
<rect x="100.9" y="371.8" width="0.9" height="0.9" fill="#ffff00" opacity="0.85"/>
<rect x="97.6" y="374.7" width="0.9" height="0.9" fill="#ffff00" opacity="0.85"/>
<rect x="107.1" y="384.2" width="0.9" height="0.9" fill="#ffff00" opacity="0.85"/>
<rect x="105.9" y="384.4" width="0.9" height="0.9" fill="#ffff00" opacity="0.85"/>
<rect x="107.9" y="383.6" width="0.9" height="0.9" fill="#ffff00" opacity="0.85"/>
<rect x="249.4" y="341.3" width="0.9" height="0.9" fill="#ffff00" opacity="0.85"/>
<rect x="249.6" y="345.8" width="0.9" height="0.9" fill="#ffff00" opacity="0.85"/>
<path d="M238.1,314.5l1.2,-2.7M271.5,321.2l2.0,-4.5M274.1,319.9l2.1,-4.8M250.8,320.6l1.8,-3.9M258.0,313.1l2.5,-5.6M212.7,317.0l1.1,-2.6M241.7,304.4l2.2,-5.0M263.8,314.3l2.6,-5.7M208.1,316.0l2.4,-5.4M259.8,313.6l1.1,-2.4M221.8,317.5l1.5,-3.4M266.8,317.7l2.9,-6.4M272.5,320.4l1.8,-3.9M240.4,320.9l1.9,-4.1M274.8,319.3l2.2,-5.0M209.8,310.7l2.9,-6.5M216.5,321.2l1.1,-2.4M244.4,321.0l1.1,-2.4M240.9,304.5l1.8,-4.1M232.7,309.6l1.1,-2.5M247.7,318.2l2.3,-5.0M279.1,320.4l2.1,-4.8M249.9,318.6l1.5,-3.3M282.1,303.0l1.2,-2.6M258.1,303.9l1.4,-3.2M250.3,320.6l1.7,-3.8M255.6,310.5l2.6,-5.9M206.9,315.0l2.8,-6.3M248.1,313.1l1.8,-4.0M281.4,310.8l0.9,-2.1M265.9,315.3l1.9,-4.2M217.4,313.2l1.6,-3.6M207.1,309.8l1.1,-2.5M264.7,320.9l2.7,-5.9M266.6,312.2l2.5,-5.5M220.3,307.8l1.9,-4.1M218.9,303.7l1.8,-4.0M230.6,305.6l1.7,-3.8M255.0,318.2l2.8,-6.2M221.2,320.4l3.1,-6.9M214.0,304.0l3.1,-6.9M250.0,321.1l1.0,-2.3M217.0,314.2l2.3,-5.1M279.8,314.9l1.2,-2.7M246.3,318.8l1.1,-2.4M245.8,308.6l1.0,-2.3M93.4,301.0l3.4,-1.0M90.8,296.9l1.9,-0.6M103.7,299.5l3.7,-1.1M95.1,314.3l1.6,-0.5M96.5,312.7l3.1,-0.9M79.1,299.3l2.1,-0.6M76.4,312.6l2.6,-0.8M97.6,307.9l1.9,-0.6" stroke="#ff8000" stroke-width="0.45" fill="none" opacity="0.8"/></g></g>
<rect x="33.4" y="282.2" width="254.79999999999998" height="220.3" fill="none" stroke="#1a3a66" stroke-opacity="0.45" stroke-width="0.6"/>
<text class="t t2" x="29.8" y="493.6" text-anchor="end">-80</text>
<text class="t t2" x="29.8" y="469.1" text-anchor="end">-60</text>
<text class="t t2" x="29.8" y="444.6" text-anchor="end">-40</text>
<text class="t t2" x="29.8" y="420.1" text-anchor="end">-20</text>
<text class="t t2" x="29.8" y="395.7" text-anchor="end">0</text>
<text class="t t2" x="29.8" y="371.2" text-anchor="end">20</text>
<text class="t t2" x="29.8" y="346.7" text-anchor="end">40</text>
<text class="t t2" x="29.8" y="322.2" text-anchor="end">60</text>
<text class="t t2" x="29.8" y="297.7" text-anchor="end">80</text>
<text class="t t2" x="54.6" y="514" text-anchor="middle">-150</text>
<text class="t t2" x="90.0" y="514" text-anchor="middle">-100</text>
<text class="t t2" x="125.4" y="514" text-anchor="middle">-50</text>
<text class="t t2" x="160.8" y="514" text-anchor="middle">0</text>
<text class="t t2" x="196.2" y="514" text-anchor="middle">50</text>
<text class="t t2" x="231.6" y="514" text-anchor="middle">100</text>
<text class="t t2" x="267.0" y="514" text-anchor="middle">150</text>
<text class="l l2" x="160.4" y="523.3" text-anchor="middle">Longitude (°E)</text>
<text class="l l2" transform="translate(12.4,392.6) rotate(-90)" text-anchor="middle">Latitude (°N)</text>
<text class="h2" x="161" y="277.2" text-anchor="middle">CAMEL Emissivity Quality Flag</text>
<rect x="293.8" y="282.20" width="12.6" height="44.16" fill="#ff8000"/>
<rect x="293.8" y="326.26" width="12.6" height="44.16" fill="#ffff00"/>
<rect x="293.8" y="370.32" width="12.6" height="44.16" fill="#80ff80"/>
<rect x="293.8" y="414.38" width="12.6" height="44.16" fill="#00ffff"/>
<rect x="293.8" y="458.44" width="12.6" height="44.16" fill="#0080ff"/>
<rect x="293.8" y="282.2" width="12.6" height="220.3" fill="none" stroke="#444" stroke-width="0.45"/>
<text class="t" style="font-size:9.2px" x="309.8" y="285.2">4</text>
<text class="t" style="font-size:9.2px" x="309.8" y="340.3">3</text>
<text class="t" style="font-size:9.2px" x="309.8" y="395.4">2</text>
<text class="t" style="font-size:9.2px" x="309.8" y="450.4">1</text>
<text class="t" style="font-size:9.2px" x="309.8" y="505.5">0</text>
</g>
<path d="M306.4,337.27h-1.5M306.4,392.35h-1.5M306.4,447.43h-1.5" stroke="#333" stroke-width="0.5" fill="none"/>
<text class="c" x="171.2" y="542.6" text-anchor="middle">(<tspan font-weight="bold">b</tspan>)</text>
</svg></body></html>
